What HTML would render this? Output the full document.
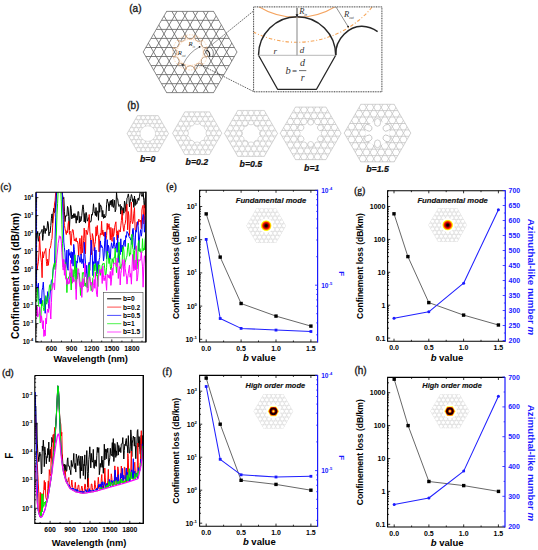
<!DOCTYPE html>
<html><head><meta charset="utf-8"><style>
html,body{margin:0;padding:0;background:#fff;}
body{width:538px;height:550px;overflow:hidden;font-family:"Liberation Sans",sans-serif;}
svg{display:block;}
</style></head><body>
<svg width="538" height="550" viewBox="0 0 538 550">
<rect width="538" height="550" fill="#fff"/>
<defs><radialGradient id="gfund"><stop offset="0" stop-color="#000"/><stop offset="0.2" stop-color="#200000"/><stop offset="0.42" stop-color="#b00000"/><stop offset="0.62" stop-color="#ff2000"/><stop offset="0.78" stop-color="#ffc000"/><stop offset="0.9" stop-color="#ffff30"/><stop offset="1" stop-color="#ffff80" stop-opacity="0.3"/></radialGradient><radialGradient id="ghigh"><stop offset="0" stop-color="#ffffa0"/><stop offset="0.22" stop-color="#ffb000"/><stop offset="0.42" stop-color="#a00000"/><stop offset="0.6" stop-color="#100000"/><stop offset="0.85" stop-color="#200000"/><stop offset="1" stop-color="#900000"/></radialGradient></defs>
<text x="129.2" y="11.5" font-family="Liberation Sans" font-size="10.1" fill="#1a1a1a" stroke="#1a1a1a" stroke-width="0.35">(a)</text>
<clipPath id="k1"><polygon points="143.1,52 166.6,11.3 213.6,11.3 237.1,52 213.6,92.7 166.6,92.7"/></clipPath>
<path clip-path="url(#k1)" d="M142.1 11.3H238.1M142.1 20.3H238.1M142.1 29.4H238.1M142.1 38.4H238.1M142.1 47.5H238.1M142.1 56.5H238.1M142.1 65.6H238.1M142.1 74.6H238.1M142.1 83.7H238.1M142.1 92.7H238.1M97.5 9.3L146.8 94.7M146.8 9.3L97.5 94.7M108 9.3L157.3 94.7M157.3 9.3L108 94.7M118.4 9.3L167.7 94.7M167.7 9.3L118.4 94.7M128.9 9.3L178.2 94.7M178.2 9.3L128.9 94.7M139.3 9.3L188.6 94.7M188.6 9.3L139.3 94.7M149.8 9.3L199.1 94.7M199.1 9.3L149.8 94.7M160.2 9.3L209.5 94.7M209.5 9.3L160.2 94.7M170.7 9.3L220 94.7M220 9.3L170.7 94.7M181.1 9.3L230.4 94.7M230.4 9.3L181.1 94.7M191.6 9.3L240.9 94.7M240.9 9.3L191.6 94.7M202 9.3L251.3 94.7M251.3 9.3L202 94.7M212.5 9.3L261.8 94.7M261.8 9.3L212.5 94.7M222.9 9.3L272.2 94.7M272.2 9.3L222.9 94.7M233.4 9.3L282.7 94.7M282.7 9.3L233.4 94.7" stroke="#686868" stroke-width="0.85" fill="none"/>
<polygon points="143.1,52 166.6,11.3 213.6,11.3 237.1,52 213.6,92.7 166.6,92.7" fill="none" stroke="#777" stroke-width="0.6"/>
<path d="M207 56.9A4.6 4.6 0 0 0 202.5 64.7A4.6 4.6 0 0 0 194.7 69.2A4.6 4.6 0 0 0 185.7 69.2A4.6 4.6 0 0 0 177.9 64.7A4.6 4.6 0 0 0 173.4 56.9A4.6 4.6 0 0 0 173.4 47.9A4.6 4.6 0 0 0 177.9 40.1A4.6 4.6 0 0 0 185.7 35.6A4.6 4.6 0 0 0 194.7 35.6A4.6 4.6 0 0 0 202.5 40.1A4.6 4.6 0 0 0 207 47.9A4.6 4.6 0 0 0 207 56.9Z" fill="#fff" stroke="#8a8a8a" stroke-width="0.8"/>
<path d="M207 56.9A4.6 4.6 0 0 0 202.5 64.7A4.6 4.6 0 0 0 194.7 69.2A4.6 4.6 0 0 0 185.7 69.2A4.6 4.6 0 0 0 177.9 64.7A4.6 4.6 0 0 0 173.4 56.9A4.6 4.6 0 0 0 173.4 47.9A4.6 4.6 0 0 0 177.9 40.1A4.6 4.6 0 0 0 185.7 35.6A4.6 4.6 0 0 0 194.7 35.6A4.6 4.6 0 0 0 202.5 40.1A4.6 4.6 0 0 0 207 47.9A4.6 4.6 0 0 0 207 56.9Z" fill="#fff" stroke="#e9a56a" stroke-width="0.5"/>
<circle cx="190.2" cy="52.4" r="13.0" fill="none" stroke="#f0a868" stroke-width="0.5" stroke-dasharray="1.2 1.0"/>
<circle cx="190.2" cy="52.4" r="17.6" fill="none" stroke="#f0a868" stroke-width="0.5" stroke-dasharray="1.4 1.4"/>
<path d="M183 64.5 Q189 52 199.5 47" stroke="#333" stroke-width="0.5" fill="none"/>
<circle cx="199.6" cy="46.8" r="0.9" fill="#111"/>
<circle cx="182.9" cy="64.8" r="0.9" fill="#111"/>
<text x="188.6" y="46.1" font-family="Liberation Serif" font-size="6.6" font-weight="normal" font-style="italic" text-anchor="start" fill="#222">R</text>
<text x="192.6" y="47.9" font-family="Liberation Serif" font-size="3.0" font-style="italic" fill="#555">in</text>
<text x="177.8" y="55.4" font-family="Liberation Serif" font-size="6.6" font-weight="normal" font-style="italic" text-anchor="start" fill="#222">R</text>
<text x="181.8" y="57.4" font-family="Liberation Serif" font-size="3.0" font-style="italic" fill="#555">out</text>
<path d="M206.5 50 Q210.5 52 209.5 56.5" stroke="#222" stroke-width="1.2" fill="none"/>
<path d="M210.5 47.5 Q215 51 212.5 57" stroke="#333" stroke-width="0.6" fill="none"/>
<path d="M207.3 48.4 L253.5 11 M200.5 64.8 L253.5 91.5" stroke="#333" stroke-width="0.75" stroke-dasharray="1.6 1" fill="none"/>
<clipPath id="ins"><rect x="253.6" y="7" width="128.3" height="84.8"/></clipPath>
<g clip-path="url(#ins)">
<circle cx="297" cy="-55.5" r="72.8" fill="none" stroke="#f4a460" stroke-width="1.1"/>
<circle cx="297" cy="-55.5" r="97.8" fill="none" stroke="#f6a558" stroke-width="1.1" stroke-dasharray="3.5 2 1 2"/>
</g>
<rect x="253.6" y="6.9" width="128.3" height="84.9" fill="none" stroke="#3a3a3a" stroke-width="1" stroke-dasharray="1 0.7"/>
<path d="M258.5 55.3 A38.6 38.6 0 0 1 335.7 55.3" stroke="#262626" stroke-width="1.5" fill="none"/>
<path d="M258.5 55.3 L277.6 89.3 L316.5 89.3 L335.7 55.3" stroke="#262626" stroke-width="1.3" fill="none" stroke-linejoin="round"/>
<path d="M258.5 55.3 H335.7" stroke="#b0b0b0" stroke-width="0.9"/>
<path d="M297 7.5 V55.3" stroke="#999" stroke-width="1.2"/>
<path d="M335.8 55 C335 38 350 26 362 26.3 C369 26.5 374 29 377.6 31.6" stroke="#262626" stroke-width="1.5" fill="none"/>
<path d="M297 8 V16" stroke="#333" stroke-width="0.5"/>
<path d="M295.6 14.2 L297 17.2 L298.4 14.2 Z" fill="#111"/>
<path d="M336 7 L348.1 26.6" stroke="#444" stroke-width="0.6"/>
<circle cx="348.1" cy="26.6" r="0.9" fill="#111"/>
<text x="299.2" y="14.2" font-family="Liberation Serif" font-size="8.5" font-weight="normal" font-style="italic" text-anchor="start" fill="#333">R</text>
<text x="304.3" y="15.8" font-family="Liberation Serif" font-size="3.6" font-style="italic" fill="#444">in</text>
<text x="344" y="17" font-family="Liberation Serif" font-size="8.5" font-weight="normal" font-style="italic" text-anchor="start" fill="#333">R</text>
<text x="349.2" y="18.6" font-family="Liberation Serif" font-size="3.6" font-style="italic" fill="#444">out</text>
<text x="273.5" y="54" font-family="Liberation Serif" font-size="9" font-weight="normal" font-style="italic" text-anchor="start" fill="#333">r</text>
<text x="299.8" y="53.4" font-family="Liberation Serif" font-size="9" font-weight="normal" font-style="italic" text-anchor="start" fill="#333">d</text>
<text x="285.6" y="74.4" font-family="Liberation Serif" font-size="10.5" font-weight="normal" font-style="italic" text-anchor="start" fill="#333">b</text>
<text x="292" y="74" font-family="Liberation Serif" font-size="9" font-weight="bold" font-style="normal" text-anchor="start" fill="#333">=</text>
<text x="302.6" y="66.2" font-family="Liberation Serif" font-size="10" font-weight="normal" font-style="italic" text-anchor="middle" fill="#333">d</text>
<path d="M299 70.6 H306.3" stroke="#333" stroke-width="0.7"/>
<text x="302.6" y="80.6" font-family="Liberation Serif" font-size="10" font-weight="normal" font-style="italic" text-anchor="middle" fill="#333">r</text>
<text x="127.2" y="108.5" font-family="Liberation Sans" font-size="10" fill="#1a1a1a" stroke="#1a1a1a" stroke-width="0.35">(b)</text>
<clipPath id="k2"><polygon points="127,133.6 137.4,115.6 158.2,115.6 168.6,133.6 158.2,151.6 137.4,151.6"/></clipPath>
<path clip-path="url(#k2)" d="M126 115.6H169.6M126 119.6H169.6M126 123.6H169.6M126 127.6H169.6M126 131.6H169.6M126 135.6H169.6M126 139.6H169.6M126 143.6H169.6M126 147.6H169.6M126 151.6H169.6M101.6 113.6L124.7 153.6M124.7 113.6L101.6 153.6M106.2 113.6L129.3 153.6M129.3 113.6L106.2 153.6M110.8 113.6L133.9 153.6M133.9 113.6L110.8 153.6M115.5 113.6L138.6 153.6M138.6 113.6L115.5 153.6M120.1 113.6L143.2 153.6M143.2 113.6L120.1 153.6M124.7 113.6L147.8 153.6M147.8 113.6L124.7 153.6M129.3 113.6L152.4 153.6M152.4 113.6L129.3 153.6M133.9 113.6L157 153.6M157 113.6L133.9 153.6M138.6 113.6L161.7 153.6M161.7 113.6L138.6 153.6M143.2 113.6L166.3 153.6M166.3 113.6L143.2 153.6M147.8 113.6L170.9 153.6M170.9 113.6L147.8 153.6M152.4 113.6L175.5 153.6M175.5 113.6L152.4 153.6M157 113.6L180.1 153.6M180.1 113.6L157 153.6M161.7 113.6L184.8 153.6M184.8 113.6L161.7 153.6M166.3 113.6L189.4 153.6M189.4 113.6L166.3 153.6M170.9 113.6L194 153.6M194 113.6L170.9 153.6" stroke="#c2c2c2" stroke-width="0.5" fill="none"/>
<polygon points="127,133.6 137.4,115.6 158.2,115.6 168.6,133.6 158.2,151.6 137.4,151.6" fill="none" stroke="#c2c2c2" stroke-width="0.5"/>
<circle cx="147.8" cy="133.6" r="7.8" fill="#fff" stroke="#c2c2c2" stroke-width="0.5"/>
<text x="147.6" y="162.3" font-family="Liberation Sans" font-size="8.8" font-weight="bold" font-style="italic" text-anchor="middle" fill="#111" stroke="#111" stroke-width="0.2">b=0</text>
<clipPath id="k3"><polygon points="172.5,133.2 184.8,111.8 209.6,111.8 221.9,133.2 209.6,154.6 184.8,154.6"/></clipPath>
<path clip-path="url(#k3)" d="M171.5 111.8H222.9M171.5 116.6H222.9M171.5 121.3H222.9M171.5 126.1H222.9M171.5 130.8H222.9M171.5 135.6H222.9M171.5 140.3H222.9M171.5 145.1H222.9M171.5 149.8H222.9M171.5 154.6H222.9M142.5 109.8L169.5 156.6M169.5 109.8L142.5 156.6M148 109.8L175 156.6M175 109.8L148 156.6M153.5 109.8L180.5 156.6M180.5 109.8L153.5 156.6M159 109.8L186 156.6M186 109.8L159 156.6M164.5 109.8L191.5 156.6M191.5 109.8L164.5 156.6M170 109.8L197 156.6M197 109.8L170 156.6M175.5 109.8L202.5 156.6M202.5 109.8L175.5 156.6M180.9 109.8L208 156.6M208 109.8L180.9 156.6M186.4 109.8L213.5 156.6M213.5 109.8L186.4 156.6M191.9 109.8L218.9 156.6M218.9 109.8L191.9 156.6M197.4 109.8L224.4 156.6M224.4 109.8L197.4 156.6M202.9 109.8L229.9 156.6M229.9 109.8L202.9 156.6M208.4 109.8L235.4 156.6M235.4 109.8L208.4 156.6M213.9 109.8L240.9 156.6M240.9 109.8L213.9 156.6M219.4 109.8L246.4 156.6M246.4 109.8L219.4 156.6M224.9 109.8L251.9 156.6M251.9 109.8L224.9 156.6" stroke="#c2c2c2" stroke-width="0.5706666666666667" fill="none"/>
<polygon points="172.5,133.2 184.8,111.8 209.6,111.8 221.9,133.2 209.6,154.6 184.8,154.6" fill="none" stroke="#c2c2c2" stroke-width="0.5"/>
<path d="M206.6 135.7A5.4 5.4 0 0 0 204.1 140.1A5.4 5.4 0 0 0 199.7 142.6A5.4 5.4 0 0 0 194.7 142.6A5.4 5.4 0 0 0 190.3 140.1A5.4 5.4 0 0 0 187.8 135.7A5.4 5.4 0 0 0 187.8 130.7A5.4 5.4 0 0 0 190.3 126.3A5.4 5.4 0 0 0 194.7 123.8A5.4 5.4 0 0 0 199.7 123.8A5.4 5.4 0 0 0 204.1 126.3A5.4 5.4 0 0 0 206.6 130.7A5.4 5.4 0 0 0 206.6 135.7Z" fill="#fff" stroke="#c2c2c2" stroke-width="0.5706666666666667"/>
<text x="196.9" y="164.8" font-family="Liberation Sans" font-size="8.8" font-weight="bold" font-style="italic" text-anchor="middle" fill="#111" stroke="#111" stroke-width="0.2">b=0.2</text>
<clipPath id="k4"><polygon points="224.4,133.4 237.7,110.4 264.3,110.4 277.6,133.4 264.3,156.4 237.7,156.4"/></clipPath>
<path clip-path="url(#k4)" d="M223.4 110.4H278.6M223.4 115.5H278.6M223.4 120.6H278.6M223.4 125.7H278.6M223.4 130.8H278.6M223.4 136H278.6M223.4 141.1H278.6M223.4 146.2H278.6M223.4 151.3H278.6M223.4 156.4H278.6M198.2 108.4L227.1 158.4M227.1 108.4L198.2 158.4M204.1 108.4L233 158.4M233 108.4L204.1 158.4M210 108.4L238.9 158.4M238.9 108.4L210 158.4M215.9 108.4L244.8 158.4M244.8 108.4L215.9 158.4M221.8 108.4L250.7 158.4M250.7 108.4L221.8 158.4M227.7 108.4L256.6 158.4M256.6 108.4L227.7 158.4M233.6 108.4L262.5 158.4M262.5 108.4L233.6 158.4M239.5 108.4L268.4 158.4M268.4 108.4L239.5 158.4M245.4 108.4L274.3 158.4M274.3 108.4L245.4 158.4M251.3 108.4L280.2 158.4M280.2 108.4L251.3 158.4M257.2 108.4L286.1 158.4M286.1 108.4L257.2 158.4M263.1 108.4L292 158.4M292 108.4L263.1 158.4M269 108.4L297.9 158.4M297.9 108.4L269 158.4M274.9 108.4L303.8 158.4M303.8 108.4L274.9 158.4" stroke="#c2c2c2" stroke-width="0.6133333333333333" fill="none"/>
<polygon points="224.4,133.4 237.7,110.4 264.3,110.4 277.6,133.4 264.3,156.4 237.7,156.4" fill="none" stroke="#c2c2c2" stroke-width="0.5"/>
<path d="M260.8 136A3.3 3.3 0 0 0 258.2 140.6A3.3 3.3 0 0 0 253.6 143.2A3.3 3.3 0 0 0 248.4 143.2A3.3 3.3 0 0 0 243.8 140.6A3.3 3.3 0 0 0 241.2 136A3.3 3.3 0 0 0 241.2 130.8A3.3 3.3 0 0 0 243.8 126.2A3.3 3.3 0 0 0 248.4 123.6A3.3 3.3 0 0 0 253.6 123.6A3.3 3.3 0 0 0 258.2 126.2A3.3 3.3 0 0 0 260.8 130.8A3.3 3.3 0 0 0 260.8 136Z" fill="#fff" stroke="#c2c2c2" stroke-width="0.6133333333333333"/>
<text x="250.9" y="166.7" font-family="Liberation Sans" font-size="8.8" font-weight="bold" font-style="italic" text-anchor="middle" fill="#111" stroke="#111" stroke-width="0.2">b=0.5</text>
<clipPath id="k5"><polygon points="280.2,133.3 295.5,106.9 325.9,106.9 341.2,133.3 325.9,159.7 295.5,159.7"/></clipPath>
<path clip-path="url(#k5)" d="M279.2 106.9H342.2M279.2 112.8H342.2M279.2 118.6H342.2M279.2 124.5H342.2M279.2 130.4H342.2M279.2 136.2H342.2M279.2 142.1H342.2M279.2 148H342.2M279.2 153.8H342.2M279.2 159.7H342.2M250.3 104.9L283.1 161.7M283.1 104.9L250.3 161.7M257 104.9L289.8 161.7M289.8 104.9L257 161.7M263.8 104.9L296.6 161.7M296.6 104.9L263.8 161.7M270.6 104.9L303.4 161.7M303.4 104.9L270.6 161.7M277.4 104.9L310.2 161.7M310.2 104.9L277.4 161.7M284.1 104.9L316.9 161.7M316.9 104.9L284.1 161.7M290.9 104.9L323.7 161.7M323.7 104.9L290.9 161.7M297.7 104.9L330.5 161.7M330.5 104.9L297.7 161.7M304.5 104.9L337.3 161.7M337.3 104.9L304.5 161.7M311.2 104.9L344 161.7M344 104.9L311.2 161.7M318 104.9L350.8 161.7M350.8 104.9L318 161.7M324.8 104.9L357.6 161.7M357.6 104.9L324.8 161.7M331.6 104.9L364.4 161.7M364.4 104.9L331.6 161.7M338.3 104.9L371.1 161.7M371.1 104.9L338.3 161.7" stroke="#c2c2c2" stroke-width="0.704" fill="none"/>
<polygon points="280.2,133.3 295.5,106.9 325.9,106.9 341.2,133.3 325.9,159.7 295.5,159.7" fill="none" stroke="#c2c2c2" stroke-width="0.5"/>
<circle cx="310.7" cy="133.3" r="10.3" fill="#fff"/>
<ellipse cx="320.4" cy="127.7" rx="2.9" ry="2.9" transform="rotate(-30 320.4 127.7)" fill="#fff" stroke="#c2c2c2" stroke-width="0.7"/>
<ellipse cx="310.7" cy="122.2" rx="2.9" ry="2.9" transform="rotate(-90 310.7 122.2)" fill="#fff" stroke="#c2c2c2" stroke-width="0.7"/>
<ellipse cx="301" cy="127.7" rx="2.9" ry="2.9" transform="rotate(-150 301 127.7)" fill="#fff" stroke="#c2c2c2" stroke-width="0.7"/>
<ellipse cx="301" cy="138.9" rx="2.9" ry="2.9" transform="rotate(-210 301 138.9)" fill="#fff" stroke="#c2c2c2" stroke-width="0.7"/>
<ellipse cx="310.7" cy="144.4" rx="2.9" ry="2.9" transform="rotate(-270 310.7 144.4)" fill="#fff" stroke="#c2c2c2" stroke-width="0.7"/>
<ellipse cx="320.4" cy="138.9" rx="2.9" ry="2.9" transform="rotate(-330 320.4 138.9)" fill="#fff" stroke="#c2c2c2" stroke-width="0.7"/>
<text x="311.8" y="170.8" font-family="Liberation Sans" font-size="8.8" font-weight="bold" font-style="italic" text-anchor="middle" fill="#111" stroke="#111" stroke-width="0.2">b=1</text>
<clipPath id="k6"><polygon points="344.1,133.1 360.8,104.2 394.2,104.2 410.9,133.1 394.2,162 360.8,162"/></clipPath>
<path clip-path="url(#k6)" d="M343.1 104.2H411.9M343.1 110.6H411.9M343.1 117H411.9M343.1 123.5H411.9M343.1 129.9H411.9M343.1 136.3H411.9M343.1 142.7H411.9M343.1 149.2H411.9M343.1 155.6H411.9M343.1 162H411.9M311.5 102.2L347.1 164M347.1 102.2L311.5 164M318.9 102.2L354.6 164M354.6 102.2L318.9 164M326.3 102.2L362 164M362 102.2L326.3 164M333.7 102.2L369.4 164M369.4 102.2L333.7 164M341.1 102.2L376.8 164M376.8 102.2L341.1 164M348.5 102.2L384.2 164M384.2 102.2L348.5 164M356 102.2L391.6 164M391.6 102.2L356 164M363.4 102.2L399 164M399 102.2L363.4 164M370.8 102.2L406.5 164M406.5 102.2L370.8 164M378.2 102.2L413.9 164M413.9 102.2L378.2 164M385.6 102.2L421.3 164M421.3 102.2L385.6 164M393 102.2L428.7 164M428.7 102.2L393 164M400.4 102.2L436.1 164M436.1 102.2L400.4 164M407.9 102.2L443.5 164M443.5 102.2L407.9 164" stroke="#c2c2c2" stroke-width="0.7706666666666666" fill="none"/>
<polygon points="344.1,133.1 360.8,104.2 394.2,104.2 410.9,133.1 394.2,162 360.8,162" fill="none" stroke="#c2c2c2" stroke-width="0.5"/>
<circle cx="377.5" cy="133.1" r="12.2" fill="#fff"/>
<ellipse cx="386.7" cy="127.8" rx="3.9" ry="3.1" transform="rotate(-30 386.7 127.8)" fill="#fff" stroke="#c2c2c2" stroke-width="0.8"/>
<ellipse cx="377.5" cy="122.4" rx="3.9" ry="3.1" transform="rotate(-90 377.5 122.4)" fill="#fff" stroke="#c2c2c2" stroke-width="0.8"/>
<ellipse cx="368.3" cy="127.8" rx="3.9" ry="3.1" transform="rotate(-150 368.3 127.8)" fill="#fff" stroke="#c2c2c2" stroke-width="0.8"/>
<ellipse cx="368.3" cy="138.4" rx="3.9" ry="3.1" transform="rotate(-210 368.3 138.4)" fill="#fff" stroke="#c2c2c2" stroke-width="0.8"/>
<ellipse cx="377.5" cy="143.8" rx="3.9" ry="3.1" transform="rotate(-270 377.5 143.8)" fill="#fff" stroke="#c2c2c2" stroke-width="0.8"/>
<ellipse cx="386.7" cy="138.4" rx="3.9" ry="3.1" transform="rotate(-330 386.7 138.4)" fill="#fff" stroke="#c2c2c2" stroke-width="0.8"/>
<text x="377.6" y="171.6" font-family="Liberation Sans" font-size="8.8" font-weight="bold" font-style="italic" text-anchor="middle" fill="#111" stroke="#111" stroke-width="0.2">b=1.5</text>
<clipPath id="cc"><rect x="35.8" y="192.3" width="110.1" height="149.7"/></clipPath>
<polyline points="36.5,241.3 37.1,234.2 37.7,231.4 38.4,241.3 39,240.4 39.6,233.2 40.2,233.5 40.8,232.5 41.5,230.8 42.1,229.4 42.7,240.4 43.3,234.6 43.9,225.7 44.6,229.7 45.2,233.5 45.8,228.4 46.4,230.6 47,228.7 47.7,221.4 48.3,223.9 48.9,235.8 49.5,232.1 50.1,232.7 50.8,225.6 51.4,218.4 52,213.9 52.6,223.1 53.2,212.6 53.9,208.2 54.5,212.7 55.1,211.7 55.7,204 56.3,196 57,190.7 57.6,187.4 58.2,185.6 58.8,182.7 59.4,178.4 59.5,181.9 60.1,181.3 60.7,180.1 61.3,187.9 61.9,186.9 62.5,194.8 63.2,198.9 63.8,197.5 64.4,211.2 65,221.6 65.6,215.8 66.3,215.8 66.9,216.1 67.5,206.4 68.1,208 68.7,216.5 69.4,230.1 70,216 70.6,205.4 71.2,208.6 71.8,218.9 72.5,215.1 73.1,218.1 73.7,213.7 74.3,217.7 74.9,213.6 75.6,217 76.2,223.2 76.8,215.8 77.4,220.2 78,211.4 78.7,211.9 79.3,222.9 79.9,216.3 80.5,221.6 81.1,220.9 81.8,215.3 82.4,208.9 83,204.9 83.6,209.2 84.2,221.9 84.9,213.5 85.5,223.1 86.1,212.4 86.7,215.1 87.3,221.2 88,219.2 88.6,217.6 89.2,220.1 89.8,222.7 90.4,221.2 91.1,221.5 91.7,214.3 92.3,215.2 92.9,211.3 93.5,203.8 94.2,212.6 94.8,212.1 95.4,215.5 96,207.5 96.6,216.5 97.3,211.1 97.9,211.1 98.5,220.3 99.1,202.8 99.7,212.3 100.4,204.8 101,206.1 101.6,207.4 102.2,216.9 102.8,210.4 103.5,218.4 104.1,214.3 104.7,217.9 105.3,217.1 105.9,215.7 106.6,204.8 107.2,199.1 107.8,201.8 108.4,203.2 109,211 109.7,203.1 110.3,200.7 110.9,205.1 111.5,200.3 112.1,206.6 112.8,199.3 113.4,207.5 114,205.5 114.6,200.2 115.2,211.8 115.9,209.4 116.5,192.2 117.1,198.9 117.7,198.8 118.3,203.9 119,206.5 119.6,205.9 120.2,204.4 120.8,214.1 121.4,206.3 122.1,207.9 122.7,215.3 123.3,207.8 123.9,213.2 124.5,201 125.2,203.9 125.8,211.5 126.4,208.4 127,198.1 127.6,197.2 128.3,193.9 128.9,197.5 129.5,206.9 130.1,201.9 130.7,198.5 131.4,194.5 132,196.4 132.6,201.5 133.2,198.8 133.8,207.4 134.5,196.1 135.1,205.5 135.7,199.4 136.3,204.3 136.9,203.5 137.6,200.5 138.2,198 138.8,200.4 139.4,196.8 140,193.1 140.7,186.7 141.3,194.4 141.9,196.6 142.5,196.2 143.1,191.5 143.8,200.3 144.4,208.1 145,198.7 145.6,197 146.2,194.6" fill="none" stroke="#000000" stroke-width="1.0" stroke-linejoin="round" clip-path="url(#cc)"/>
<polyline points="36.5,253.2 37.1,269.6 37.7,265.9 38.4,261.7 39,252.4 39.6,236.2 40.2,249 40.8,257 41.5,262.8 42.1,277.7 42.7,251.7 43.3,258 43.9,254.7 44.6,251.9 45.2,250.6 45.8,248.4 46.4,261.6 47,266 47.7,259.2 48.3,265.3 48.9,260.4 49.5,249 50.1,248.5 50.8,245.5 51.4,240.5 52,238.5 52.6,227.1 53.2,219.1 53.9,214.8 54.5,204 55.1,200.6 55.7,192.4 56.3,188.1 57,185.4 57.6,180.8 58.2,180.3 58.8,178.6 59.4,177.3 59.4,179.3 60.1,179.6 60.7,178.6 61.3,187.9 61.9,191.7 62.5,196 63.2,203.4 63.8,215.7 64.4,225.3 65,228.7 65.6,231.7 66.3,234.6 66.9,230.7 67.5,232.7 68.1,224.1 68.7,221.1 69.4,234.3 70,231 70.6,244.6 71.2,245.3 71.8,233.5 72.5,229.6 73.1,229.8 73.7,235.1 74.3,240.9 74.9,239 75.6,241.3 76.2,237.8 76.8,241.9 77.4,241.1 78,244.1 78.7,255.9 79.3,244.1 79.9,238.3 80.5,246.8 81.1,255.1 81.8,235.7 82.4,252.8 83,247.3 83.6,240.3 84.2,228.1 84.9,238.7 85.5,253.8 86.1,230 86.7,232.7 87.3,234.6 88,230.7 88.6,225.1 89.2,214.5 89.8,231.2 90.4,237.2 91.1,245.5 91.7,254.8 92.3,233.6 92.9,236.1 93.5,240 94.2,251.1 94.8,244.3 95.4,241.7 96,226.8 96.6,236.1 97.3,225.5 97.9,234.7 98.5,235.2 99.1,251.9 99.7,238.6 100.4,233.4 101,234.9 101.6,221.3 102.2,234.6 102.8,230 103.5,236.1 104.1,232.2 104.7,236.5 105.3,231.9 105.9,239.5 106.6,235.4 107.2,223.3 107.8,229.5 108.4,227.2 109,223.8 109.7,230.1 110.3,239.9 110.9,227.4 111.5,237.3 112.1,241.4 112.8,228.4 113.4,236.5 114,233.7 114.6,227.8 115.2,224.3 115.9,221.8 116.5,233.6 117.1,240.1 117.7,230.8 118.3,237.8 119,229.8 119.6,230.4 120.2,232 120.8,225.9 121.4,220.5 122.1,210.5 122.7,221.9 123.3,227.9 123.9,231.3 124.5,225.3 125.2,223.6 125.8,219.3 126.4,205.7 127,204.2 127.6,229.8 128.3,211.5 128.9,216 129.5,235.4 130.1,224.5 130.7,220.3 131.4,202.1 132,221.1 132.6,223.7 133.2,221.2 133.8,213.2 134.5,207.7 135.1,229.5 135.7,231 136.3,228.1 136.9,222.2 137.6,223 138.2,224.6 138.8,219.1 139.4,220.8 140,221.9 140.7,220.2 141.3,228.8 141.9,210 142.5,206.8 143.1,205.3 143.8,224 144.4,220.7 145,204.8 145.6,214.4 146.2,198.3" fill="none" stroke="#ff0000" stroke-width="1.0" stroke-linejoin="round" clip-path="url(#cc)"/>
<polyline points="36.4,192.2 36.5,286.4 37.1,288.3 37.7,286.9 38.4,283.1 39,299.9 39.6,299.1 40.2,304.1 40.8,298.1 41.5,303.9 42.1,290.2 42.7,287.7 43.3,282.1 43.9,292.1 44.6,305 45.2,313.3 45.8,296.7 46.4,300.9 47,301.4 47.7,291.6 48.3,303.5 48.9,308.5 49.5,304.2 50.1,294 50.8,287.1 51.4,280.4 52,280 52.6,278.2 53.2,269.2 53.9,266.1 54.5,266.5 55.1,238 55.7,217.1 56.3,194.3 57,185.3 57.6,170 58.2,160.1 58.8,154.7 59.4,151.3 59.4,152.4 60.1,154.6 60.7,163.7 61.3,167.5 61.9,183.2 62.5,199.1 63.2,219.4 63.8,242.1 64.4,247.8 65,252.9 65.6,267.7 66.3,264.1 66.9,250.1 67.5,268.3 68.1,270.3 68.7,249.1 69.4,255.3 70,252.9 70.6,257.6 71.2,251.6 71.8,263.6 72.5,252.3 73.1,266.2 73.7,244.4 74.3,249.3 74.9,257.5 75.6,262.9 76.2,278.9 76.8,260.9 77.4,263.1 78,255.2 78.7,256 79.3,257.1 79.9,262.5 80.5,262 81.1,254.1 81.8,263.6 82.4,262.4 83,258.9 83.6,267.9 84.2,242.2 84.9,254.6 85.5,263 86.1,276.9 86.7,265.3 87.3,279.5 88,277.3 88.6,263.6 89.2,262.2 89.8,270.4 90.4,257.1 91.1,240 91.7,248.3 92.3,254.7 92.9,275.7 93.5,261.7 94.2,263.6 94.8,247.4 95.4,263.8 96,250 96.6,274.6 97.3,273.2 97.9,261.3 98.5,267 99.1,259.9 99.7,257.4 100.4,240.9 101,247.6 101.6,245.4 102.2,246.9 102.8,248.5 103.5,260.9 104.1,256.1 104.7,240.8 105.3,232 105.9,250.9 106.6,258.7 107.2,239.7 107.8,253 108.4,245.3 109,248 109.7,259.4 110.3,259.1 110.9,248.2 111.5,242.8 112.1,245.6 112.8,248.4 113.4,246.3 114,237.2 114.6,244.8 115.2,248.9 115.9,246.3 116.5,242.9 117.1,252.3 117.7,235.2 118.3,252.6 119,262.6 119.6,250.5 120.2,254.6 120.8,238.8 121.4,251.8 122.1,245 122.7,249.1 123.3,245.4 123.9,241.2 124.5,240.1 125.2,246.5 125.8,235.6 126.4,237.4 127,231.5 127.6,233.1 128.3,233.3 128.9,236.3 129.5,237.7 130.1,237.4 130.7,240.1 131.4,238.3 132,244.6 132.6,229.4 133.2,228.3 133.8,237.3 134.5,249.5 135.1,247 135.7,230.5 136.3,232.2 136.9,227.1 137.6,221.6 138.2,226.8 138.8,250.8 139.4,239.9 140,233.8 140.7,229.6 141.3,236.2 141.9,232.3 142.5,217.9 143.1,214.5 143.8,216.3 144.4,232.2 145,224.2 145.6,222.3 146.2,219.5" fill="none" stroke="#0000ff" stroke-width="1.0" stroke-linejoin="round" clip-path="url(#cc)"/>
<polyline points="36.5,302.1 37.1,296.2 37.7,288.1 38.4,304.2 39,306.4 39.6,307.1 40.2,322.9 40.8,319.7 41.5,303.8 42.1,305.7 42.7,300.3 43.3,307.5 43.9,310.7 44.6,308.9 45.2,299.6 45.8,295.6 46.4,304.2 47,302.7 47.7,298.4 48.3,296.5 48.9,292.3 49.5,285.3 50.1,284.5 50.8,290.3 51.4,290.4 52,289 52.6,275.9 53.2,267.6 53.9,264.3 54.5,262.9 55.1,269.6 55.7,259.8 56.3,236.1 57,214.2 57.6,203.4 58.2,189.6 58.8,181.5 59.4,180.1 59.5,182.5 60.1,182.6 60.7,189.3 61.3,201.9 61.9,224.3 62.5,243.3 63.2,266.8 63.8,260.4 64.4,269.9 65,265.6 65.6,262.5 66.3,276 66.9,292.6 67.5,279.6 68.1,279.5 68.7,276.8 69.4,276.8 70,272.6 70.6,278.1 71.2,290 71.8,276.1 72.5,277 73.1,269.7 73.7,281.3 74.3,274.8 74.9,254.9 75.6,273.4 76.2,289.1 76.8,267.8 77.4,278.6 78,272.7 78.7,273.3 79.3,273.1 79.9,281 80.5,295.4 81.1,285.8 81.8,289.4 82.4,272.6 83,273.5 83.6,272.4 84.2,276.9 84.9,286 85.5,283 86.1,286.8 86.7,277.3 87.3,288.1 88,277.2 88.6,270.6 89.2,264.7 89.8,278 90.4,281.6 91.1,290.6 91.7,289 92.3,284 92.9,277.8 93.5,277.3 94.2,264.5 94.8,270.8 95.4,263.5 96,267.3 96.6,276.1 97.3,275 97.9,286.6 98.5,264.6 99.1,265.7 99.7,265.2 100.4,275.3 101,271.4 101.6,270.8 102.2,265.1 102.8,263.5 103.5,263.9 104.1,263.2 104.7,268.2 105.3,275.1 105.9,274.8 106.6,267.3 107.2,251.3 107.8,254 108.4,257.1 109,263.6 109.7,258.2 110.3,266.6 110.9,269.8 111.5,268 112.1,258.6 112.8,261 113.4,263.7 114,257.3 114.6,257.8 115.2,248 115.9,263.5 116.5,272.6 117.1,262.8 117.7,257.6 118.3,252.5 119,242.2 119.6,259.3 120.2,266.2 120.8,268.7 121.4,265.8 122.1,263.2 122.7,248.1 123.3,246.7 123.9,251.1 124.5,265.9 125.2,262.5 125.8,259.9 126.4,257.5 127,255.9 127.6,247.8 128.3,243.2 128.9,249.8 129.5,256.2 130.1,252.9 130.7,254.3 131.4,236.3 132,234.2 132.6,247.8 133.2,249.3 133.8,268.3 134.5,251 135.1,250.1 135.7,246.6 136.3,248.1 136.9,268.9 137.6,261.2 138.2,243.7 138.8,240.5 139.4,251.5 140,248.6 140.7,252.1 141.3,253.1 141.9,252.9 142.5,238.7 143.1,250.8 143.8,248.2 144.4,250 145,240.1 145.6,236.1 146.2,233.3" fill="none" stroke="#00ee00" stroke-width="1.0" stroke-linejoin="round" clip-path="url(#cc)"/>
<polyline points="36.5,316.1 37.1,306.7 37.7,317.1 38.4,314.7 39,313.4 39.6,307.2 40.2,312.6 40.8,322.3 41.5,315.8 42.1,321.2 42.7,328.6 43.3,320.7 43.9,336.5 44.6,330 45.2,335.8 45.8,318.2 46.4,324 47,312.8 47.7,309 48.3,312.5 48.9,307.9 49.5,299 50.1,308.7 50.8,319 51.4,302.7 52,288.4 52.6,287.9 53.2,283.4 53.9,283 54.5,289.9 55.1,278.4 55.7,270.3 56.3,263.5 57,255.1 57.6,250 58.2,243.4 58.8,240 59.4,235.8 60.1,236.5 60.2,238.3 60.7,236.7 61.3,241.9 61.9,252.7 62.5,262.1 63.2,270.1 63.8,259.2 64.4,275.3 65,263.8 65.6,278.9 66.3,278.5 66.9,284.5 67.5,278.4 68.1,280.8 68.7,284.1 69.4,283.1 70,270.7 70.6,260 71.2,277.1 71.8,268.7 72.5,283.2 73.1,276.8 73.7,281.6 74.3,279.6 74.9,280.4 75.6,284.2 76.2,299.6 76.8,281.2 77.4,276.6 78,269 78.7,268.9 79.3,282.8 79.9,286 80.5,287.6 81.1,281.8 81.8,297.4 82.4,285.5 83,278.6 83.6,286.7 84.2,277.6 84.9,263.4 85.5,272.4 86.1,274 86.7,277.4 87.3,292.3 88,291.3 88.6,288.5 89.2,277.1 89.8,277 90.4,283.1 91.1,285.5 91.7,282.2 92.3,291.8 92.9,290.4 93.5,285.3 94.2,279.4 94.8,288.3 95.4,272 96,286.3 96.6,294.4 97.3,296.8 97.9,280.9 98.5,277.1 99.1,274.4 99.7,269.4 100.4,272.5 101,271 101.6,269.1 102.2,283.5 102.8,265.9 103.5,277.4 104.1,280.8 104.7,277.5 105.3,275.3 105.9,281.6 106.6,290.3 107.2,274.3 107.8,275.4 108.4,277.6 109,274.8 109.7,278.4 110.3,271.4 110.9,285.4 111.5,279.9 112.1,268.1 112.8,275.3 113.4,266.6 114,262.6 114.6,263.5 115.2,263.2 115.9,264.5 116.5,266.7 117.1,257.9 117.7,263 118.3,278.5 119,271.2 119.6,266.5 120.2,285 120.8,273.8 121.4,270.5 122.1,266.7 122.7,259.6 123.3,264.1 123.9,276.4 124.5,259.7 125.2,268.4 125.8,272.9 126.4,275.8 127,284.1 127.6,278.2 128.3,273.7 128.9,268.9 129.5,265.1 130.1,277.2 130.7,273.5 131.4,284.2 132,269.4 132.6,254.5 133.2,261 133.8,270.8 134.5,268.1 135.1,260 135.7,269.9 136.3,245.8 136.9,281.1 137.6,277.8 138.2,270.9 138.8,259.4 139.4,261.2 140,260.5 140.7,258.5 141.3,251.7 141.9,260.1 142.5,266.9 143.1,287.2 143.8,266.9 144.4,255.8 145,257.2 145.6,262.5 146.2,249.3" fill="none" stroke="#ff00ff" stroke-width="1.0" stroke-linejoin="round" clip-path="url(#cc)"/>
<path d="M35.8 192.3H145.9V342" stroke="#000" stroke-width="1.1" fill="none"/>
<path d="M35.8 192.3V342H145.9" stroke="#000" stroke-width="1.1" fill="none"/>
<path d="M145.9 191.8V342.6" stroke="#000" stroke-width="1.1" fill="none"/>
<path d="M35.8 341.6L38.4 341.6M35.8 336.2L37.1 336.2M35.8 333L37.1 333M35.8 330.8L37.1 330.8M35.8 329L37.1 329M35.8 327.6L37.1 327.6M35.8 326.4L37.1 326.4M35.8 325.3L37.1 325.3M35.8 324.4L37.1 324.4M35.8 323.6L38.4 323.6M35.8 318.2L37.1 318.2M35.8 315L37.1 315M35.8 312.8L37.1 312.8M35.8 311L37.1 311M35.8 309.6L37.1 309.6M35.8 308.4L37.1 308.4M35.8 307.3L37.1 307.3M35.8 306.4L37.1 306.4M35.8 305.6L38.4 305.6M35.8 300.2L37.1 300.2M35.8 297L37.1 297M35.8 294.8L37.1 294.8M35.8 293L37.1 293M35.8 291.6L37.1 291.6M35.8 290.4L37.1 290.4M35.8 289.3L37.1 289.3M35.8 288.4L37.1 288.4M35.8 287.6L38.4 287.6M35.8 282.2L37.1 282.2M35.8 279L37.1 279M35.8 276.8L37.1 276.8M35.8 275L37.1 275M35.8 273.6L37.1 273.6M35.8 272.4L37.1 272.4M35.8 271.3L37.1 271.3M35.8 270.4L37.1 270.4M35.8 269.6L38.4 269.6M35.8 264.2L37.1 264.2M35.8 261L37.1 261M35.8 258.8L37.1 258.8M35.8 257L37.1 257M35.8 255.6L37.1 255.6M35.8 254.4L37.1 254.4M35.8 253.3L37.1 253.3M35.8 252.4L37.1 252.4M35.8 251.6L38.4 251.6M35.8 246.2L37.1 246.2M35.8 243L37.1 243M35.8 240.8L37.1 240.8M35.8 239L37.1 239M35.8 237.6L37.1 237.6M35.8 236.4L37.1 236.4M35.8 235.3L37.1 235.3M35.8 234.4L37.1 234.4M35.8 233.6L38.4 233.6M35.8 228.2L37.1 228.2M35.8 225L37.1 225M35.8 222.8L37.1 222.8M35.8 221L37.1 221M35.8 219.6L37.1 219.6M35.8 218.4L37.1 218.4M35.8 217.3L37.1 217.3M35.8 216.4L37.1 216.4M35.8 215.6L38.4 215.6M35.8 210.2L37.1 210.2M35.8 207L37.1 207M35.8 204.8L37.1 204.8M35.8 203L37.1 203M35.8 201.6L37.1 201.6M35.8 200.4L37.1 200.4M35.8 199.3L37.1 199.3M35.8 198.4L37.1 198.4M35.8 197.6L38.4 197.6M41.3 342L41.3 340.6M51.4 342L51.4 339.4M61.5 342L61.5 340.6M71.5 342L71.5 339.4M81.6 342L81.6 340.6M91.7 342L91.7 339.4M101.7 342L101.7 340.6M111.8 342L111.8 339.4M121.9 342L121.9 340.6M131.9 342L131.9 339.4M142 342L142 340.6" stroke="#000" stroke-width="0.8" fill="none"/>
<text x="33.2" y="343.8" font-family="Liberation Sans" font-weight="bold" font-size="6.3" fill="#000" text-anchor="end">10<tspan font-size="3.9" dy="-2.6">-4</tspan></text>
<text x="33.2" y="325.8" font-family="Liberation Sans" font-weight="bold" font-size="6.3" fill="#000" text-anchor="end">10<tspan font-size="3.9" dy="-2.6">-3</tspan></text>
<text x="33.2" y="307.8" font-family="Liberation Sans" font-weight="bold" font-size="6.3" fill="#000" text-anchor="end">10<tspan font-size="3.9" dy="-2.6">-2</tspan></text>
<text x="33.2" y="289.8" font-family="Liberation Sans" font-weight="bold" font-size="6.3" fill="#000" text-anchor="end">10<tspan font-size="3.9" dy="-2.6">-1</tspan></text>
<text x="33.2" y="271.8" font-family="Liberation Sans" font-weight="bold" font-size="6.3" fill="#000" text-anchor="end">10<tspan font-size="3.9" dy="-2.6">0</tspan></text>
<text x="33.2" y="253.8" font-family="Liberation Sans" font-weight="bold" font-size="6.3" fill="#000" text-anchor="end">10<tspan font-size="3.9" dy="-2.6">1</tspan></text>
<text x="33.2" y="235.8" font-family="Liberation Sans" font-weight="bold" font-size="6.3" fill="#000" text-anchor="end">10<tspan font-size="3.9" dy="-2.6">2</tspan></text>
<text x="33.2" y="217.8" font-family="Liberation Sans" font-weight="bold" font-size="6.3" fill="#000" text-anchor="end">10<tspan font-size="3.9" dy="-2.6">3</tspan></text>
<text x="33.2" y="199.8" font-family="Liberation Sans" font-weight="bold" font-size="6.3" fill="#000" text-anchor="end">10<tspan font-size="3.9" dy="-2.6">4</tspan></text>
<text x="51.4" y="350.9" font-family="Liberation Sans" font-size="6.9" font-weight="bold" font-style="normal" text-anchor="middle" fill="#000">600</text>
<text x="71.5" y="350.9" font-family="Liberation Sans" font-size="6.9" font-weight="bold" font-style="normal" text-anchor="middle" fill="#000">900</text>
<text x="91.7" y="350.9" font-family="Liberation Sans" font-size="6.9" font-weight="bold" font-style="normal" text-anchor="middle" fill="#000">1200</text>
<text x="111.8" y="350.9" font-family="Liberation Sans" font-size="6.9" font-weight="bold" font-style="normal" text-anchor="middle" fill="#000">1500</text>
<text x="131.9" y="350.9" font-family="Liberation Sans" font-size="6.9" font-weight="bold" font-style="normal" text-anchor="middle" fill="#000">1800</text>
<text x="90.7" y="362" font-family="Liberation Sans" font-size="9.3" font-weight="bold" font-style="normal" text-anchor="middle" fill="#000">Wavelength (nm)</text>
<text transform="translate(18.6 276) rotate(-90)" font-family="Liberation Sans" font-weight="bold" font-size="10.2" text-anchor="middle">Confinement loss (dB/km)</text>
<text x="0.3" y="189.8" font-family="Liberation Sans" font-size="9.5" fill="#1a1a1a" stroke="#1a1a1a" stroke-width="0.35">(c)</text>
<rect x="103.6" y="292.6" width="39.4" height="45.2" fill="#fff" stroke="#444" stroke-width="0.6"/>
<path d="M107.1 298.8H121.3" stroke="#000" stroke-width="1.0"/>
<text x="123" y="301.2" font-family="Liberation Sans" font-size="6.6" font-weight="bold" font-style="normal" text-anchor="start" fill="#000">b=0</text>
<path d="M107.1 307.1H121.3" stroke="#ff0000" stroke-width="0.7"/>
<text x="123" y="309.5" font-family="Liberation Sans" font-size="6.6" font-weight="bold" font-style="normal" text-anchor="start" fill="#000">b=0.2</text>
<path d="M107.1 315.4H121.3" stroke="#0000ff" stroke-width="0.7"/>
<text x="123" y="317.8" font-family="Liberation Sans" font-size="6.6" font-weight="bold" font-style="normal" text-anchor="start" fill="#000">b=0.5</text>
<path d="M107.1 323.7H121.3" stroke="#00ee00" stroke-width="0.7"/>
<text x="123" y="326.1" font-family="Liberation Sans" font-size="6.6" font-weight="bold" font-style="normal" text-anchor="start" fill="#000">b=1</text>
<path d="M107.1 332H121.3" stroke="#ff00ff" stroke-width="0.7"/>
<text x="123" y="334.4" font-family="Liberation Sans" font-size="6.6" font-weight="bold" font-style="normal" text-anchor="start" fill="#000">b=1.5</text>
<clipPath id="dc"><rect x="34.8" y="375.5" width="108.5" height="147.9"/></clipPath>
<polyline points="35.3,406.6 35.8,406 36.3,443 36.8,422.8 37.3,443.1 37.8,452.8 38.3,456.1 38.8,461.7 39.3,457.7 39.8,452.1 40.3,455.3 40.8,454.6 41.3,474 41.8,472.7 42.3,446 42.8,450.7 43.3,440.1 43.8,448.1 44.3,466.7 44.8,446.9 45.3,452.2 45.8,455.4 46.3,463.8 46.8,456.6 47.3,457.6 47.8,448.5 48.3,454.7 48.8,442.1 49.3,461.7 49.8,450.9 50.3,449.1 50.8,458.2 51.3,458.4 51.8,437.4 52.3,439.1 52.8,442.4 53.3,435.2 53.8,441.8 54.3,434.2 54.8,442.8 55.3,434.5 55.8,426.3 56.3,417.7 56.8,407.8 57.3,397.8 57.8,387.3 58.3,388.3 58.8,397.1 59.3,409.8 59.8,422.4 60.3,434.2 60.8,445.9 61.3,450.1 61.8,455.4 62.3,454.8 62.8,463.1 63.3,465.8 63.8,466.4 64.3,464.1 64.8,471.4 65.3,471.3 65.8,464.7 66.3,471.3 66.8,470.9 67.3,460 67.8,457.8 68.3,466.3 68.8,465.7 69.3,466.1 69.8,469.9 70.3,470.3 70.8,474.7 71.3,460.4 71.8,466.4 72.3,466.8 72.8,463.9 73.3,461 73.8,453.4 74.3,467.6 74.8,468.6 75.3,463.4 75.8,472.1 76.3,454.1 76.8,457 77.3,458.8 77.8,465.6 78.3,458.3 78.8,455.6 79.3,460.1 79.8,466.6 80.3,478.4 80.8,456.1 81.3,466.9 81.8,471 82.3,456.2 82.8,460.8 83.3,475.6 83.8,464.3 84.3,465.7 84.8,454.9 85.3,479.2 85.8,466.2 86.3,463.9 86.8,450.6 87.3,471.5 87.8,487 88.3,473.7 88.8,459.6 89.3,454.8 89.8,446.8 90.3,457.9 90.8,467.9 91.3,453.4 91.8,460.8 92.3,462.2 92.8,460.2 93.3,449.4 93.8,467.6 94.3,468.4 94.8,460.1 95.3,460 95.8,466.1 96.3,466.4 96.8,455.6 97.3,447.3 97.8,452.4 98.3,452.5 98.8,447.6 99.3,474.7 99.8,470.5 100.3,463.4 100.8,467.3 101.3,465.4 101.8,456.2 102.3,467.4 102.8,460.1 103.3,473.3 103.8,464.1 104.3,444.2 104.8,460 105.3,452.4 105.8,448.9 106.3,458.8 106.8,449.5 107.3,452.4 107.8,448.1 108.3,459.1 108.8,465.7 109.3,461.9 109.8,457.7 110.3,448.3 110.8,454.3 111.3,455.7 111.8,453.6 112.3,442.6 112.8,456.5 113.3,438.6 113.8,461.5 114.3,455.9 114.8,443.5 115.3,446.1 115.8,457.4 116.3,450.9 116.8,455.7 117.3,442.3 117.8,444.7 118.3,455.1 118.8,445.5 119.3,451.7 119.8,448.9 120.3,447.6 120.8,452.6 121.3,444 121.8,443.5 122.3,443.6 122.8,437.6 123.3,449 123.8,459 124.3,450.4 124.8,444.3 125.3,445.6 125.8,440.6 126.3,438.5 126.8,446 127.3,445.8 127.8,452.9 128.3,435.6 128.8,446.3 129.3,453 129.8,453.1 130.3,446.9 130.8,429.9 131.3,436.2 131.8,456.7 132.3,443.1 132.8,439.5 133.3,436.1 133.8,438.2 134.3,446.2 134.8,437 135.3,444.8 135.8,458.7 136.3,445.4 136.8,444.9 137.3,430.8 137.8,429.6 138.3,447 138.8,436.4 139.3,436.8 139.8,449.3 140.3,454.2 140.8,437.3 141.3,435.1 141.8,440.9 142.3,450.2 142.8,435.5 143.3,440" fill="none" stroke="#000" stroke-width="1.0" stroke-linejoin="round" clip-path="url(#dc)"/>
<polyline points="35.3,414 35.8,425.7 36.3,437.7 36.8,450.7 37.3,463.7 37.8,474.5 38.3,483.9 38.8,493.3 39.3,513 39.8,509.1 40.3,492.3 40.8,516.2 41.3,496.3 41.8,493.5 42.3,506.4 42.8,508.1 43.3,497 43.8,489.6 44.3,480.5 44.8,490 45.3,482.3 45.8,497.5 46.3,498.9 46.8,500.3 47.3,497.1 47.8,488.3 48.3,480.9 48.8,490.6 49.3,469.6 49.8,474.3 50.3,475.8 50.8,473.8 51.3,446.9 51.8,459 52.3,464.5 52.8,461.5 53.3,434.4 53.8,451.3 54.3,432.8 54.8,427.3 55.3,433.1 55.8,420.9 56.3,416.2 56.8,406.4 57.3,396.4 57.8,385.8 58.3,386.9 58.8,395.7 59.3,408.4 59.8,417.8 60.3,421.6 60.8,424.4 61.3,436 61.8,432.3 62.3,458.9 62.8,466.5 63.3,469.6 63.8,472.4 64.3,474.4 64.8,471.3 65.3,470.5 65.8,477.7 66.3,481.3 66.8,482.3 67.3,481.4 67.8,481.8 68.3,478.7 68.8,477.5 69.3,484.5 69.8,486.5 70.3,487.3 70.8,487.9 71.3,485.4 71.8,480 72.3,484.9 72.8,487.9 73.3,489.1 73.8,488.6 74.3,488.6 74.8,487.5 75.3,482.3 75.8,487.9 76.3,490.2 76.8,490.5 77.3,491.2 77.8,487.6 78.3,485.1 78.8,485 79.3,491.3 79.8,492.5 80.3,492.7 80.8,491.1 81.3,488.9 81.8,486 82.3,487.6 82.8,492.6 83.3,491.5 83.8,492.4 84.3,490.3 84.8,484.1 85.3,484.2 85.8,489.1 86.3,491.7 86.8,491.3 87.3,491.5 87.8,487.4 88.3,478.3 88.8,488.4 89.3,490.1 89.8,491.1 90.3,491.8 90.8,491.8 91.3,484 91.8,483.9 92.3,487.4 92.8,490.7 93.3,490.9 93.8,489.9 94.3,489.1 94.8,480.6 95.3,484.6 95.8,488.2 96.3,489.9 96.8,490.2 97.3,490.6 97.8,484.6 98.3,477.3 98.8,483 99.3,488.3 99.8,489.2 100.3,488.2 100.8,488.4 101.3,478.8 101.8,474.5 102.3,485.3 102.8,488.5 103.3,487.6 103.8,488.1 104.3,485.2 104.8,468.1 105.3,477.9 105.8,486.8 106.3,485.5 106.8,485.6 107.3,486.9 107.8,480.5 108.3,469.4 108.8,483.4 109.3,485.8 109.8,484.1 110.3,485.7 110.8,483.2 111.3,473.8 111.8,477.7 112.3,483.4 112.8,486.4 113.3,485.5 113.8,483.9 114.3,480.4 114.8,465.9 115.3,476.3 115.8,482.2 116.3,485 116.8,483.5 117.3,481.2 117.8,466.8 118.3,470 118.8,477.8 119.3,483 119.8,484.3 120.3,482.4 120.8,477.8 121.3,466.1 121.8,471.9 122.3,480.7 122.8,482.5 123.3,481.6 123.8,482.7 124.3,467.2 124.8,467.3 125.3,474 125.8,482.1 126.3,482.5 126.8,481 127.3,476.8 127.8,453.3 128.3,458.4 128.8,479.2 129.3,480.8 129.8,480 130.3,478.8 130.8,471.3 131.3,451 131.8,470.2 132.3,479.1 132.8,478.1 133.3,478.6 133.8,475.6 134.3,463.7 134.8,462.3 135.3,472.1 135.8,477 136.3,477 136.8,476.7 137.3,468.1 137.8,443 138.3,465.9 138.8,472.3 139.3,471.2 139.8,467.7 140.3,466.5 140.8,444.2 141.3,430.7 141.8,449 142.3,455.3 142.8,451.8 143.3,447.4" fill="none" stroke="#ff0000" stroke-width="1.0" stroke-linejoin="round" clip-path="url(#dc)"/>
<polyline points="35.3,392 35.8,418.8 36.3,443 36.8,465.5 37.3,488 37.8,507.7 38.3,510.8 38.8,512.7 39.3,514.6 39.8,516.5 40.3,517.2 40.8,517.1 41.3,516.9 41.8,516.8 42.3,516 42.8,514.9 43.3,513.7 43.8,512.5 44.3,511.3 44.8,510.2 45.3,508.4 45.8,506.3 46.3,504.2 46.8,502.1 47.3,500 47.8,497.9 48.3,495.2 48.8,492.2 49.3,489.1 49.8,486.1 50.3,483 50.8,480 51.3,476.6 51.8,472.3 52.3,466.2 52.8,461.7 53.3,457.2 53.8,452.7 54.3,448.2 54.8,441.4 55.3,433.1 55.8,424.8 56.3,416.2 56.8,406.4 57.3,396.4 57.8,385.8 58.3,386.9 58.8,395.7 59.3,408.4 59.8,421 60.3,432.8 60.8,444.5 61.3,453.7 61.8,461 62.3,463 62.8,468.3 63.3,469.8 63.8,473 64.3,474.7 64.8,476.7 65.3,478.1 65.8,479 66.3,480.7 66.8,481.4 67.3,483.6 67.8,483.5 68.3,484.7 68.8,485.5 69.3,484.9 69.8,487.7 70.3,487.4 70.8,489 71.3,488.2 71.8,489 72.3,488 72.8,489.5 73.3,488 73.8,489.2 74.3,490.6 74.8,489.4 75.3,490.6 75.8,488.9 76.3,490.1 76.8,491.8 77.3,489.5 77.8,491.5 78.3,490.6 78.8,491.3 79.3,491.9 79.8,492.3 80.3,491.2 80.8,492.1 81.3,492.6 81.8,490.9 82.3,492 82.8,493.3 83.3,491.4 83.8,492.9 84.3,492 84.8,491.4 85.3,491 85.8,489.4 86.3,492.1 86.8,490.4 87.3,491.7 87.8,492.2 88.3,492.5 88.8,489.4 89.3,488.6 89.8,492.2 90.3,491.5 90.8,490 91.3,491.6 91.8,490.8 92.3,490.5 92.8,490 93.3,490 93.8,491.6 94.3,491.2 94.8,490.8 95.3,490 95.8,489.4 96.3,490.5 96.8,488.1 97.3,489.6 97.8,489.4 98.3,488.5 98.8,484.3 99.3,487 99.8,485 100.3,483.9 100.8,487.1 101.3,489.1 101.8,482.1 102.3,485.1 102.8,481.6 103.3,488.2 103.8,484.3 104.3,482.4 104.8,484.3 105.3,484.4 105.8,487.3 106.3,486.3 106.8,483.3 107.3,487.2 107.8,486.5 108.3,483.3 108.8,485.3 109.3,479.4 109.8,485.8 110.3,485.5 110.8,486.9 111.3,480.3 111.8,483.7 112.3,481.2 112.8,482.6 113.3,480.5 113.8,483.4 114.3,484.5 114.8,470.1 115.3,470.1 115.8,480.9 116.3,480.9 116.8,477.2 117.3,484.1 117.8,482.7 118.3,474.6 118.8,484.5 119.3,483.9 119.8,484 120.3,481.9 120.8,473.4 121.3,478 121.8,476.7 122.3,468.4 122.8,480.9 123.3,480.3 123.8,475.2 124.3,478.1 124.8,478.1 125.3,479.4 125.8,480.8 126.3,468.1 126.8,480.7 127.3,472.2 127.8,475.1 128.3,476.6 128.8,481.3 129.3,477.4 129.8,481.4 130.3,480.5 130.8,477.9 131.3,471 131.8,469.8 132.3,471.7 132.8,478.3 133.3,458.7 133.8,478.7 134.3,473.2 134.8,471.2 135.3,476.4 135.8,476.5 136.3,473.1 136.8,474.9 137.3,476.4 137.8,478.5 138.3,467.6 138.8,471.3 139.3,469.8 139.8,470.7 140.3,466.9 140.8,459 141.3,462.2 141.8,459.1 142.3,443.9 142.8,451 143.3,440.3" fill="none" stroke="#0000ff" stroke-width="1.0" stroke-linejoin="round" clip-path="url(#dc)"/>
<polyline points="35.3,464.4 35.8,475.6 36.3,486.1 36.8,495.9 37.3,502.8 37.8,507.7 38.3,510.8 38.8,512.7 39.3,514.6 39.8,516.5 40.3,511.8 40.8,514.9 41.3,516.4 41.8,494 42.3,511.8 42.8,493.9 43.3,504.7 43.8,506.6 44.3,503.2 44.8,502 45.3,505.5 45.8,501.1 46.3,504.2 46.8,502.1 47.3,500 47.8,497.9 48.3,495.2 48.8,492.2 49.3,489.1 49.8,486.1 50.3,483 50.8,480 51.3,476.6 51.8,472.3 52.3,466.2 52.8,461.7 53.3,457.2 53.8,452.7 54.3,448.2 54.8,441.4 55.3,433.1 55.8,424.8 56.3,416.2 56.8,406.4 57.3,396.4 57.8,385.8 58.3,386.9 58.8,395.7 59.3,408.4 59.8,421 60.3,432.8 60.8,444.5 61.3,453.7 61.8,461 62.3,464.9 62.8,468.7 63.3,471.4 63.8,473.3 64.3,475.2 64.8,477.1 65.3,478.9 65.8,480.8 66.3,482.1 66.8,483 67.3,483.8 67.8,484.7 68.3,485.6 68.8,486.5 69.3,487.4 69.8,488.2 70.3,488.8 70.8,489 71.3,489.3 71.8,489.6 72.3,489.9 72.8,490.2 73.3,490.5 73.8,490.7 74.3,491 74.8,491.3 75.3,491.6 75.8,491.9 76.3,492 76.8,492.1 77.3,492.2 77.8,492.3 78.3,492.4 78.8,492.5 79.3,492.6 79.8,492.7 80.3,492.8 80.8,492.9 81.3,493 81.8,493.1 82.3,493.2 82.8,493.3 83.3,493.3 83.8,493.2 84.3,493.2 84.8,493.1 85.3,493 85.8,492.9 86.3,492.8 86.8,492.8 87.3,492.7 87.8,492.6 88.3,492.5 88.8,492.4 89.3,492.3 89.8,492.3 90.3,492.2 90.8,492.1 91.3,492 91.8,491.9 92.3,491.9 92.8,491.8 93.3,491.7 93.8,491.6 94.3,491.5 94.8,491.4 95.3,491.3 95.8,491.2 96.3,491 96.8,490.9 97.3,490.8 97.8,490.6 98.3,490.5 98.8,490.3 99.3,490.2 99.8,490.1 100.3,489.4 100.8,487.2 101.3,488.6 101.8,489.1 102.3,488 102.8,488.3 103.3,488.5 103.8,488.4 104.3,488.2 104.8,488 105.3,487.3 105.8,488.2 106.3,485.5 106.8,488 107.3,485.2 107.8,486.2 108.3,487.6 108.8,481.4 109.3,485.2 109.8,483.6 110.3,486.1 110.8,482.8 111.3,482.1 111.8,483.8 112.3,485.2 112.8,486.4 113.3,484.8 113.8,481.3 114.3,483.4 114.8,483.7 115.3,484.9 115.8,485.3 116.3,480.5 116.8,482.2 117.3,482.1 117.8,484.3 118.3,482 118.8,481 119.3,483.5 119.8,483.8 120.3,479.7 120.8,480.6 121.3,479.1 121.8,483 122.3,482.1 122.8,480.8 123.3,483.1 123.8,481.6 124.3,482.9 124.8,480.7 125.3,482.5 125.8,479.6 126.3,478.8 126.8,479.2 127.3,474.9 127.8,481.6 128.3,480 128.8,476.9 129.3,468.7 129.8,477 130.3,479.6 130.8,478 131.3,472 131.8,478.6 132.3,478.5 132.8,479.2 133.3,478.7 133.8,479.6 134.3,478.2 134.8,473.5 135.3,478.8 135.8,477.6 136.3,475.1 136.8,475.2 137.3,472.8 137.8,476.5 138.3,471.2 138.8,472.6 139.3,470.1 139.8,469.7 140.3,463.1 140.8,465.9 141.3,461.9 141.8,455.9 142.3,452.7 142.8,446 143.3,446" fill="none" stroke="#00ee00" stroke-width="1.0" stroke-linejoin="round" clip-path="url(#dc)"/>
<polyline points="35.3,464.4 35.8,475.6 36.3,486.1 36.8,495.9 37.3,502.8 37.8,507.7 38.3,510.8 38.8,512.7 39.3,514.6 39.8,516.5 40.3,517.2 40.8,517.1 41.3,516.9 41.8,516.8 42.3,516 42.8,514.9 43.3,513.7 43.8,512.5 44.3,511.3 44.8,510.2 45.3,508.4 45.8,506.3 46.3,504.2 46.8,502.1 47.3,500 47.8,497.9 48.3,495.2 48.8,492.2 49.3,489.1 49.8,486.1 50.3,483 50.8,480 51.3,476.6 51.8,473.1 52.3,469.6 52.8,466.1 53.3,462.6 53.8,459 54.3,455.5 54.8,452 55.3,448.5 55.8,445 56.3,441.9 56.8,439.1 57.3,436.2 57.8,434.7 58.3,434 58.8,435 59.3,437.1 59.8,441.3 60.3,446.9 60.8,452.6 61.3,457.1 61.8,461 62.3,464.9 62.8,468.7 63.3,471.4 63.8,473.3 64.3,475.2 64.8,477.1 65.3,478.9 65.8,480.8 66.3,482.1 66.8,483 67.3,483.8 67.8,484.7 68.3,485.6 68.8,486.5 69.3,487.4 69.8,488.2 70.3,488.8 70.8,489 71.3,489.3 71.8,489.6 72.3,489.9 72.8,490.2 73.3,490.5 73.8,490.7 74.3,491 74.8,491.3 75.3,491.6 75.8,491.9 76.3,492 76.8,492.1 77.3,492.2 77.8,492.3 78.3,492.4 78.8,492.5 79.3,492.6 79.8,492.7 80.3,492.8 80.8,492.9 81.3,493 81.8,493.1 82.3,493.2 82.8,493.3 83.3,493.3 83.8,493.2 84.3,493.2 84.8,493.1 85.3,493 85.8,492.9 86.3,492.8 86.8,492.8 87.3,492.7 87.8,492.6 88.3,492.5 88.8,492.4 89.3,492.3 89.8,492.3 90.3,492.2 90.8,492.1 91.3,492 91.8,491.9 92.3,491.9 92.8,491.8 93.3,491.7 93.8,491.6 94.3,491.5 94.8,491.4 95.3,491.3 95.8,491.2 96.3,491 96.8,490.9 97.3,490.8 97.8,490.6 98.3,490.5 98.8,490.3 99.3,490.2 99.8,490.1 100.3,489.9 100.8,489.8 101.3,489.6 101.8,489.5 102.3,489.4 102.8,489.2 103.3,489.1 103.8,488.9 104.3,488.8 104.8,488.7 105.3,488.5 105.8,488.4 106.3,488.2 106.8,488.1 107.3,487.9 107.8,487.8 108.3,487.7 108.8,487.5 109.3,487.4 109.8,487.2 110.3,487.1 110.8,487 111.3,486.8 111.8,486.7 112.3,486.5 112.8,486.4 113.3,486.3 113.8,486.1 114.3,486 114.8,485.8 115.3,485.7 115.8,485.6 116.3,485.4 116.8,485.3 117.3,485.1 117.8,485 118.3,484.9 118.8,484.7 119.3,484.6 119.8,484.4 120.3,484.3 120.8,484.1 121.3,484 121.8,483.9 122.3,483.7 122.8,483.6 123.3,483.4 123.8,483.3 124.3,483.2 124.8,483 125.3,482.9 125.8,482.7 126.3,482.5 126.8,482.4 127.3,482.2 127.8,482.1 128.3,481.9 128.8,481.7 129.3,481.6 129.8,481.4 130.3,481.2 130.8,481.1 131.3,480.9 131.8,480.8 132.3,480.6 132.8,480.4 133.3,480.3 133.8,480.1 134.3,479.9 134.8,479.8 135.3,479.6 135.8,479.5 136.3,479.3 136.8,479.1 137.3,479 137.8,478.8 138.3,477.5 138.8,475.4 139.3,473.3 139.8,471.1 140.3,469 140.8,466.9 141.3,463.7 141.8,459.8 142.3,455.8 142.8,451.9 143.3,447.9" fill="none" stroke="#ff00ff" stroke-width="1.2" stroke-linejoin="round" clip-path="url(#dc)"/>
<path d="M34.8 375.5H143.3V523.4" stroke="#000" stroke-width="1.1" fill="none"/>
<path d="M34.8 375.5V523.4H143.3" stroke="#000" stroke-width="1.1" fill="none"/>
<path d="M143.3 374.9V523.9" stroke="#000" stroke-width="1.1" fill="none"/>
<path d="M34.8 523L36.1 523M34.8 519.5L36.1 519.5M34.8 516.8L36.1 516.8M34.8 514.5L36.1 514.5M34.8 512.7L36.1 512.7M34.8 511L36.1 511M34.8 509.6L36.1 509.6M34.8 508.3L37.4 508.3M34.8 499.8L36.1 499.8M34.8 494.9L36.1 494.9M34.8 491.4L36.1 491.4M34.8 488.6L36.1 488.6M34.8 486.4L36.1 486.4M34.8 484.5L36.1 484.5M34.8 482.9L36.1 482.9M34.8 481.4L36.1 481.4M34.8 480.1L37.4 480.1M34.8 471.7L36.1 471.7M34.8 466.7L36.1 466.7M34.8 463.2L36.1 463.2M34.8 460.5L36.1 460.5M34.8 458.2L36.1 458.2M34.8 456.4L36.1 456.4M34.8 454.7L36.1 454.7M34.8 453.3L36.1 453.3M34.8 452L37.4 452M34.8 443.5L36.1 443.5M34.8 438.6L36.1 438.6M34.8 435.1L36.1 435.1M34.8 432.3L36.1 432.3M34.8 430.1L36.1 430.1M34.8 428.2L36.1 428.2M34.8 426.6L36.1 426.6M34.8 425.1L36.1 425.1M34.8 423.8L37.4 423.8M34.8 415.4L36.1 415.4M34.8 410.4L36.1 410.4M34.8 406.9L36.1 406.9M34.8 404.2L36.1 404.2M34.8 401.9L36.1 401.9M34.8 400.1L36.1 400.1M34.8 398.4L36.1 398.4M34.8 397L36.1 397M34.8 395.7L37.4 395.7M34.8 387.2L36.1 387.2M34.8 382.3L36.1 382.3M34.8 378.8L36.1 378.8M34.8 376L36.1 376M40.1 523.4L40.1 522M50.1 523.4L50.1 520.8M60.1 523.4L60.1 522M70 523.4L70 520.8M80 523.4L80 522M90 523.4L90 520.8M99.9 523.4L99.9 522M109.9 523.4L109.9 520.8M119.8 523.4L119.8 522M129.8 523.4L129.8 520.8M139.8 523.4L139.8 522" stroke="#000" stroke-width="0.8" fill="none"/>
<text x="32.4" y="510.5" font-family="Liberation Sans" font-weight="bold" font-size="6.3" fill="#000" text-anchor="end">10<tspan font-size="3.9" dy="-2.6">-6</tspan></text>
<text x="32.4" y="482.3" font-family="Liberation Sans" font-weight="bold" font-size="6.3" fill="#000" text-anchor="end">10<tspan font-size="3.9" dy="-2.6">-5</tspan></text>
<text x="32.4" y="454.2" font-family="Liberation Sans" font-weight="bold" font-size="6.3" fill="#000" text-anchor="end">10<tspan font-size="3.9" dy="-2.6">-4</tspan></text>
<text x="32.4" y="426" font-family="Liberation Sans" font-weight="bold" font-size="6.3" fill="#000" text-anchor="end">10<tspan font-size="3.9" dy="-2.6">-3</tspan></text>
<text x="32.4" y="397.9" font-family="Liberation Sans" font-weight="bold" font-size="6.3" fill="#000" text-anchor="end">10<tspan font-size="3.9" dy="-2.6">-2</tspan></text>
<text x="50.1" y="532.4" font-family="Liberation Sans" font-size="6.9" font-weight="bold" font-style="normal" text-anchor="middle" fill="#000">600</text>
<text x="70" y="532.4" font-family="Liberation Sans" font-size="6.9" font-weight="bold" font-style="normal" text-anchor="middle" fill="#000">900</text>
<text x="90" y="532.4" font-family="Liberation Sans" font-size="6.9" font-weight="bold" font-style="normal" text-anchor="middle" fill="#000">1200</text>
<text x="109.9" y="532.4" font-family="Liberation Sans" font-size="6.9" font-weight="bold" font-style="normal" text-anchor="middle" fill="#000">1500</text>
<text x="129.8" y="532.4" font-family="Liberation Sans" font-size="6.9" font-weight="bold" font-style="normal" text-anchor="middle" fill="#000">1800</text>
<text x="89" y="545.6" font-family="Liberation Sans" font-size="9.3" font-weight="bold" font-style="normal" text-anchor="middle" fill="#000">Wavelength (nm)</text>
<text transform="translate(12.9 455.6) rotate(-90)" font-family="Liberation Sans" font-weight="bold" font-size="10" text-anchor="middle">F</text>
<text x="2" y="375.5" font-family="Liberation Sans" font-size="9.7" fill="#1a1a1a" stroke="#1a1a1a" stroke-width="0.35">(d)</text>
<clipPath id="k7"><polygon points="246.3,225.7 256.3,208.5 276.1,208.5 286.1,225.7 276.1,242.9 256.3,242.9"/></clipPath>
<path clip-path="url(#k7)" d="M245.3 208.5H287.1M245.3 212.3H287.1M245.3 216.1H287.1M245.3 220H287.1M245.3 223.8H287.1M245.3 227.6H287.1M245.3 231.4H287.1M245.3 235.3H287.1M245.3 239.1H287.1M245.3 242.9H287.1M222 206.5L244.2 244.9M244.2 206.5L222 244.9M226.4 206.5L248.6 244.9M248.6 206.5L226.4 244.9M230.8 206.5L253 244.9M253 206.5L230.8 244.9M235.3 206.5L257.4 244.9M257.4 206.5L235.3 244.9M239.7 206.5L261.8 244.9M261.8 206.5L239.7 244.9M244.1 206.5L266.3 244.9M266.3 206.5L244.1 244.9M248.5 206.5L270.7 244.9M270.7 206.5L248.5 244.9M252.9 206.5L275.1 244.9M275.1 206.5L252.9 244.9M257.3 206.5L279.5 244.9M279.5 206.5L257.3 244.9M261.7 206.5L283.9 244.9M283.9 206.5L261.7 244.9M266.1 206.5L288.3 244.9M288.3 206.5L266.1 244.9M270.6 206.5L292.7 244.9M292.7 206.5L270.6 244.9M275 206.5L297.1 244.9M297.1 206.5L275 244.9M279.4 206.5L301.6 244.9M301.6 206.5L279.4 244.9M283.8 206.5L306 244.9M306 206.5L283.8 244.9M288.2 206.5L310.4 244.9M310.4 206.5L288.2 244.9" stroke="#d4d4d4" stroke-width="0.55" fill="none"/>
<circle cx="266.2" cy="225.7" r="7.3" fill="#fff"/>
<circle cx="266.2" cy="225.7" r="5.6" fill="url(#gfund)"/>
<text x="235.7" y="203.1" font-family="Liberation Sans" font-size="7.7" font-weight="bold" font-style="italic" text-anchor="start" fill="#111" stroke="#111" stroke-width="0.15">Fundamental mode</text>
<polyline points="206.2,213.9 220.2,257.1 241.1,303.5 276,316.1 310.9,326.1" fill="none" stroke="#000" stroke-width="0.6" stroke-linejoin="round"/>
<rect x="204.5" y="212.2" width="3.4" height="3.4" fill="#000"/>
<rect x="218.5" y="255.4" width="3.4" height="3.4" fill="#000"/>
<rect x="239.4" y="301.8" width="3.4" height="3.4" fill="#000"/>
<rect x="274.3" y="314.4" width="3.4" height="3.4" fill="#000"/>
<rect x="309.2" y="324.4" width="3.4" height="3.4" fill="#000"/>
<polyline points="206.2,239.4 220.2,318.5 241.1,328.4 276,330.1 310.9,331.5" fill="none" stroke="#2020ff" stroke-width="1.05" stroke-linejoin="round"/>
<rect x="204.8" y="238" width="2.8" height="2.8" fill="#1a1aff"/>
<rect x="218.8" y="317.1" width="2.8" height="2.8" fill="#1a1aff"/>
<rect x="239.7" y="327" width="2.8" height="2.8" fill="#1a1aff"/>
<rect x="274.6" y="328.7" width="2.8" height="2.8" fill="#1a1aff"/>
<rect x="309.5" y="330.1" width="2.8" height="2.8" fill="#1a1aff"/>
<path d="M199.6 190.2V342H317.6" stroke="#000" stroke-width="1.1" fill="none"/>
<path d="M199.1 190.2H317.6" stroke="#000" stroke-width="1.1" fill="none"/>
<path d="M317.6 189.7V342.5" stroke="#1a1aff" stroke-width="1.2" fill="none"/>
<path d="M199.6 339.3L202.2 339.3M199.6 329.3L201 329.3M199.6 323.5L201 323.5M199.6 319.3L201 319.3M199.6 316.1L201 316.1M199.6 313.5L201 313.5M199.6 311.2L201 311.2M199.6 309.3L201 309.3M199.6 307.6L201 307.6M199.6 306.1L202.2 306.1M199.6 296.1L201 296.1M199.6 290.3L201 290.3M199.6 286.1L201 286.1M199.6 282.9L201 282.9M199.6 280.3L201 280.3M199.6 278L201 278M199.6 276.1L201 276.1M199.6 274.4L201 274.4M199.6 272.9L202.2 272.9M199.6 262.9L201 262.9M199.6 257.1L201 257.1M199.6 252.9L201 252.9M199.6 249.7L201 249.7M199.6 247.1L201 247.1M199.6 244.8L201 244.8M199.6 242.9L201 242.9M199.6 241.2L201 241.2M199.6 239.7L202.2 239.7M199.6 229.7L201 229.7M199.6 223.9L201 223.9M199.6 219.7L201 219.7M199.6 216.5L201 216.5M199.6 213.9L201 213.9M199.6 211.6L201 211.6M199.6 209.7L201 209.7M199.6 208L201 208M199.6 206.5L202.2 206.5M199.6 196.5L201 196.5M199.6 190.7L201 190.7M206.2 342L206.2 339.4M206.2 190.2L206.2 192.8M223.6 342L223.6 340.5M223.6 190.2L223.6 191.7M241.1 342L241.1 339.4M241.1 190.2L241.1 192.8M258.5 342L258.5 340.5M258.5 190.2L258.5 191.7M276 342L276 339.4M276 190.2L276 192.8M293.4 342L293.4 340.5M293.4 190.2L293.4 191.7M310.9 342L310.9 339.4M310.9 190.2L310.9 192.8" stroke="#000" stroke-width="0.8" fill="none"/>
<path d="M317.6 190.4L315 190.4M317.6 256.7L316.2 256.7M317.6 240L316.2 240M317.6 228.1L316.2 228.1M317.6 218.9L316.2 218.9M317.6 211.4L316.2 211.4M317.6 205.1L316.2 205.1M317.6 199.6L316.2 199.6M317.6 194.7L316.2 194.7M317.6 285.2L315 285.2M317.6 334.8L316.2 334.8M317.6 322.9L316.2 322.9M317.6 313.7L316.2 313.7M317.6 306.2L316.2 306.2M317.6 299.9L316.2 299.9M317.6 294.4L316.2 294.4M317.6 289.5L316.2 289.5" stroke="#1a1aff" stroke-width="0.8" fill="none"/>
<text x="197" y="341.7" font-family="Liberation Sans" font-weight="bold" font-size="7.0" fill="#000" text-anchor="end">10<tspan font-size="4.3" dy="-2.9">-1</tspan></text>
<text x="197" y="308.5" font-family="Liberation Sans" font-weight="bold" font-size="7.0" fill="#000" text-anchor="end">10<tspan font-size="4.3" dy="-2.9">0</tspan></text>
<text x="197" y="275.3" font-family="Liberation Sans" font-weight="bold" font-size="7.0" fill="#000" text-anchor="end">10<tspan font-size="4.3" dy="-2.9">1</tspan></text>
<text x="197" y="242.1" font-family="Liberation Sans" font-weight="bold" font-size="7.0" fill="#000" text-anchor="end">10<tspan font-size="4.3" dy="-2.9">2</tspan></text>
<text x="197" y="208.9" font-family="Liberation Sans" font-weight="bold" font-size="7.0" fill="#000" text-anchor="end">10<tspan font-size="4.3" dy="-2.9">3</tspan></text>
<text x="321.2" y="192.7" font-family="Liberation Sans" font-weight="bold" font-size="6.6" fill="#1a1aff">10<tspan font-size="4.1" dy="-2.8">-4</tspan></text>
<text x="321.2" y="287.5" font-family="Liberation Sans" font-weight="bold" font-size="6.6" fill="#1a1aff">10<tspan font-size="4.1" dy="-2.8">-5</tspan></text>
<text x="206.2" y="351" font-family="Liberation Sans" font-size="7.0" font-weight="bold" font-style="normal" text-anchor="middle" fill="#000">0.0</text>
<text x="241.1" y="351" font-family="Liberation Sans" font-size="7.0" font-weight="bold" font-style="normal" text-anchor="middle" fill="#000">0.5</text>
<text x="276" y="351" font-family="Liberation Sans" font-size="7.0" font-weight="bold" font-style="normal" text-anchor="middle" fill="#000">1.0</text>
<text x="310.9" y="351" font-family="Liberation Sans" font-size="7.0" font-weight="bold" font-style="normal" text-anchor="middle" fill="#000">1.5</text>
<text x="259.3" y="361.2" font-family="Liberation Sans" font-size="9.5" font-weight="bold" text-anchor="middle"><tspan font-style="italic">b</tspan> value</text>
<text transform="translate(178.6 266.1) rotate(-90)" font-family="Liberation Sans" font-weight="bold" font-size="8.55" text-anchor="middle">Confinement loss (dB/km)</text>
<text transform="translate(339.2 273.6) rotate(90)" font-family="Liberation Sans" font-weight="bold" font-size="8" fill="#1a1aff" text-anchor="middle">F</text>
<text x="166.2" y="189.8" font-family="Liberation Serif" font-size="9.5" fill="#1a1a1a" stroke="#1a1a1a" stroke-width="0.35">(e)</text>
<clipPath id="k8"><polygon points="253.5,411.3 263.5,394.1 283.3,394.1 293.3,411.3 283.3,428.5 263.5,428.5"/></clipPath>
<path clip-path="url(#k8)" d="M252.5 394.1H294.3M252.5 397.9H294.3M252.5 401.7H294.3M252.5 405.6H294.3M252.5 409.4H294.3M252.5 413.2H294.3M252.5 417H294.3M252.5 420.9H294.3M252.5 424.7H294.3M252.5 428.5H294.3M229.2 392.1L251.4 430.5M251.4 392.1L229.2 430.5M233.6 392.1L255.8 430.5M255.8 392.1L233.6 430.5M238 392.1L260.2 430.5M260.2 392.1L238 430.5M242.5 392.1L264.6 430.5M264.6 392.1L242.5 430.5M246.9 392.1L269 430.5M269 392.1L246.9 430.5M251.3 392.1L273.5 430.5M273.5 392.1L251.3 430.5M255.7 392.1L277.9 430.5M277.9 392.1L255.7 430.5M260.1 392.1L282.3 430.5M282.3 392.1L260.1 430.5M264.5 392.1L286.7 430.5M286.7 392.1L264.5 430.5M268.9 392.1L291.1 430.5M291.1 392.1L268.9 430.5M273.3 392.1L295.5 430.5M295.5 392.1L273.3 430.5M277.8 392.1L299.9 430.5M299.9 392.1L277.8 430.5M282.2 392.1L304.3 430.5M304.3 392.1L282.2 430.5M286.6 392.1L308.8 430.5M308.8 392.1L286.6 430.5M291 392.1L313.2 430.5M313.2 392.1L291 430.5M295.4 392.1L317.6 430.5M317.6 392.1L295.4 430.5" stroke="#d4d4d4" stroke-width="0.55" fill="none"/>
<circle cx="273.4" cy="411.3" r="7.3" fill="#fff"/>
<polygon points="267.7,411.3 270.5,406.4 276.2,406.4 279.1,411.3 276.2,416.2 270.5,416.2" fill="#ffff30"/>
<polygon points="268.5,411.3 270.9,407.1 275.8,407.1 278.3,411.3 275.8,415.5 270.9,415.5" fill="#ff4000"/>
<circle cx="273.4" cy="411.3" r="4.0" fill="url(#ghigh)"/>
<text x="245.6" y="388.1" font-family="Liberation Sans" font-size="7.45" font-weight="bold" font-style="italic" text-anchor="start" fill="#111" stroke="#111" stroke-width="0.15">High order mode</text>
<polyline points="206.2,378.1 220.2,424.2 241.1,480.3 276,484.4 310.9,490.2" fill="none" stroke="#000" stroke-width="0.6" stroke-linejoin="round"/>
<rect x="204.5" y="376.4" width="3.4" height="3.4" fill="#000"/>
<rect x="218.5" y="422.5" width="3.4" height="3.4" fill="#000"/>
<rect x="239.4" y="478.6" width="3.4" height="3.4" fill="#000"/>
<rect x="274.3" y="482.7" width="3.4" height="3.4" fill="#000"/>
<rect x="309.2" y="488.5" width="3.4" height="3.4" fill="#000"/>
<polyline points="206.2,386.5 220.2,459.3 241.1,474.8 276,477 310.9,476.3" fill="none" stroke="#2020ff" stroke-width="1.05" stroke-linejoin="round"/>
<rect x="204.8" y="385.1" width="2.8" height="2.8" fill="#1a1aff"/>
<rect x="218.8" y="457.9" width="2.8" height="2.8" fill="#1a1aff"/>
<rect x="239.7" y="473.4" width="2.8" height="2.8" fill="#1a1aff"/>
<rect x="274.6" y="475.6" width="2.8" height="2.8" fill="#1a1aff"/>
<rect x="309.5" y="474.9" width="2.8" height="2.8" fill="#1a1aff"/>
<path d="M199.6 375.4V526.2H317.6" stroke="#000" stroke-width="1.1" fill="none"/>
<path d="M199.1 375.4H317.6" stroke="#000" stroke-width="1.1" fill="none"/>
<path d="M317.6 374.9V526.7" stroke="#1a1aff" stroke-width="1.2" fill="none"/>
<path d="M199.6 523.2L202.2 523.2M199.6 513.3L201 513.3M199.6 507.5L201 507.5M199.6 503.3L201 503.3M199.6 500.1L201 500.1M199.6 497.5L201 497.5M199.6 495.3L201 495.3M199.6 493.4L201 493.4M199.6 491.7L201 491.7M199.6 490.2L202.2 490.2M199.6 480.3L201 480.3M199.6 474.5L201 474.5M199.6 470.3L201 470.3M199.6 467.1L201 467.1M199.6 464.5L201 464.5M199.6 462.3L201 462.3M199.6 460.4L201 460.4M199.6 458.7L201 458.7M199.6 457.2L202.2 457.2M199.6 447.3L201 447.3M199.6 441.5L201 441.5M199.6 437.3L201 437.3M199.6 434.1L201 434.1M199.6 431.5L201 431.5M199.6 429.3L201 429.3M199.6 427.4L201 427.4M199.6 425.7L201 425.7M199.6 424.2L202.2 424.2M199.6 414.3L201 414.3M199.6 408.5L201 408.5M199.6 404.3L201 404.3M199.6 401.1L201 401.1M199.6 398.5L201 398.5M199.6 396.3L201 396.3M199.6 394.4L201 394.4M199.6 392.7L201 392.7M199.6 391.2L202.2 391.2M199.6 381.3L201 381.3M199.6 375.5L201 375.5M206.2 526.2L206.2 523.6M206.2 375.4L206.2 378M223.6 526.2L223.6 524.7M223.6 375.4L223.6 376.9M241.1 526.2L241.1 523.6M241.1 375.4L241.1 378M258.5 526.2L258.5 524.7M258.5 375.4L258.5 376.9M276 526.2L276 523.6M276 375.4L276 378M293.4 526.2L293.4 524.7M293.4 375.4L293.4 376.9M310.9 526.2L310.9 523.6M310.9 375.4L310.9 378" stroke="#000" stroke-width="0.8" fill="none"/>
<path d="M317.6 375.4L315 375.4M317.6 441.9L316.2 441.9M317.6 425.2L316.2 425.2M317.6 413.3L316.2 413.3M317.6 404.1L316.2 404.1M317.6 396.5L316.2 396.5M317.6 390.1L316.2 390.1M317.6 384.6L316.2 384.6M317.6 379.8L316.2 379.8M317.6 470.6L315 470.6M317.6 520.4L316.2 520.4M317.6 508.5L316.2 508.5M317.6 499.3L316.2 499.3M317.6 491.7L316.2 491.7M317.6 485.3L316.2 485.3M317.6 479.8L316.2 479.8M317.6 475L316.2 475" stroke="#1a1aff" stroke-width="0.8" fill="none"/>
<text x="197" y="525.6" font-family="Liberation Sans" font-weight="bold" font-size="7.0" fill="#000" text-anchor="end">10<tspan font-size="4.3" dy="-2.9">-1</tspan></text>
<text x="197" y="492.6" font-family="Liberation Sans" font-weight="bold" font-size="7.0" fill="#000" text-anchor="end">10<tspan font-size="4.3" dy="-2.9">0</tspan></text>
<text x="197" y="459.6" font-family="Liberation Sans" font-weight="bold" font-size="7.0" fill="#000" text-anchor="end">10<tspan font-size="4.3" dy="-2.9">1</tspan></text>
<text x="197" y="426.6" font-family="Liberation Sans" font-weight="bold" font-size="7.0" fill="#000" text-anchor="end">10<tspan font-size="4.3" dy="-2.9">2</tspan></text>
<text x="197" y="393.6" font-family="Liberation Sans" font-weight="bold" font-size="7.0" fill="#000" text-anchor="end">10<tspan font-size="4.3" dy="-2.9">3</tspan></text>
<text x="321.2" y="377.7" font-family="Liberation Sans" font-weight="bold" font-size="6.6" fill="#1a1aff">10<tspan font-size="4.1" dy="-2.8">-4</tspan></text>
<text x="321.2" y="472.9" font-family="Liberation Sans" font-weight="bold" font-size="6.6" fill="#1a1aff">10<tspan font-size="4.1" dy="-2.8">-5</tspan></text>
<text x="206.2" y="535.2" font-family="Liberation Sans" font-size="7.0" font-weight="bold" font-style="normal" text-anchor="middle" fill="#000">0.0</text>
<text x="241.1" y="535.2" font-family="Liberation Sans" font-size="7.0" font-weight="bold" font-style="normal" text-anchor="middle" fill="#000">0.5</text>
<text x="276" y="535.2" font-family="Liberation Sans" font-size="7.0" font-weight="bold" font-style="normal" text-anchor="middle" fill="#000">1.0</text>
<text x="310.9" y="535.2" font-family="Liberation Sans" font-size="7.0" font-weight="bold" font-style="normal" text-anchor="middle" fill="#000">1.5</text>
<text x="259.3" y="545.4" font-family="Liberation Sans" font-size="9.5" font-weight="bold" text-anchor="middle"><tspan font-style="italic">b</tspan> value</text>
<text transform="translate(178.6 450.8) rotate(-90)" font-family="Liberation Sans" font-weight="bold" font-size="8.55" text-anchor="middle">Confinement loss (dB/km)</text>
<text transform="translate(339 457.8) rotate(90)" font-family="Liberation Sans" font-weight="bold" font-size="8" fill="#1a1aff" text-anchor="middle">F</text>
<text x="162.4" y="375" font-family="Liberation Serif" font-size="9.4" fill="#1a1a1a" stroke="#1a1a1a" stroke-width="0.35">(f)</text>
<clipPath id="k9"><polygon points="428.3,225.1 438,208.3 457.4,208.3 467.1,225.1 457.4,241.9 438,241.9"/></clipPath>
<path clip-path="url(#k9)" d="M427.3 208.3H468.1M427.3 212H468.1M427.3 215.8H468.1M427.3 219.5H468.1M427.3 223.2H468.1M427.3 227H468.1M427.3 230.7H468.1M427.3 234.4H468.1M427.3 238.2H468.1M427.3 241.9H468.1M404.5 206.3L426.2 243.9M426.2 206.3L404.5 243.9M408.8 206.3L430.5 243.9M430.5 206.3L408.8 243.9M413.1 206.3L434.8 243.9M434.8 206.3L413.1 243.9M417.4 206.3L439.2 243.9M439.2 206.3L417.4 243.9M421.8 206.3L443.5 243.9M443.5 206.3L421.8 243.9M426.1 206.3L447.8 243.9M447.8 206.3L426.1 243.9M430.4 206.3L452.1 243.9M452.1 206.3L430.4 243.9M434.7 206.3L456.4 243.9M456.4 206.3L434.7 243.9M439 206.3L460.7 243.9M460.7 206.3L439 243.9M443.3 206.3L465 243.9M465 206.3L443.3 243.9M447.6 206.3L469.3 243.9M469.3 206.3L447.6 243.9M451.9 206.3L473.6 243.9M473.6 206.3L451.9 243.9M456.2 206.3L478 243.9M478 206.3L456.2 243.9M460.6 206.3L482.3 243.9M482.3 206.3L460.6 243.9M464.9 206.3L486.6 243.9M486.6 206.3L464.9 243.9M469.2 206.3L490.9 243.9M490.9 206.3L469.2 243.9" stroke="#d4d4d4" stroke-width="0.55" fill="none"/>
<circle cx="447.7" cy="225.1" r="7.1" fill="#fff"/>
<circle cx="447.7" cy="225.1" r="5.6" fill="url(#gfund)"/>
<text x="417.4" y="203.2" font-family="Liberation Sans" font-size="7.7" font-weight="bold" font-style="italic" text-anchor="start" fill="#111" stroke="#111" stroke-width="0.15">Fundamental mode</text>
<polyline points="394,213.8 407.9,256.6 428.8,302.6 463.6,315.1 498.4,325" fill="none" stroke="#000" stroke-width="0.6" stroke-linejoin="round"/>
<rect x="392.3" y="212.1" width="3.4" height="3.4" fill="#000"/>
<rect x="406.2" y="254.9" width="3.4" height="3.4" fill="#000"/>
<rect x="427.1" y="300.9" width="3.4" height="3.4" fill="#000"/>
<rect x="461.9" y="313.4" width="3.4" height="3.4" fill="#000"/>
<rect x="496.7" y="323.3" width="3.4" height="3.4" fill="#000"/>
<polyline points="394,318.3 428.8,311.8 463.6,283.2 498.4,209.7" fill="none" stroke="#2020ff" stroke-width="1.05" stroke-linejoin="round"/>
<circle cx="394" cy="318.3" r="1.5" fill="#1a1aff"/>
<circle cx="428.8" cy="311.8" r="1.5" fill="#1a1aff"/>
<circle cx="463.6" cy="283.2" r="1.5" fill="#1a1aff"/>
<circle cx="498.4" cy="209.7" r="1.5" fill="#1a1aff"/>
<path d="M387.6 190.7V341.3H505.3" stroke="#000" stroke-width="1.1" fill="none"/>
<path d="M387.1 190.7H505.3" stroke="#000" stroke-width="1.1" fill="none"/>
<path d="M505.3 190.2V341.8" stroke="#1a1aff" stroke-width="1.2" fill="none"/>
<path d="M387.6 338.1L390.2 338.1M387.6 328.2L389 328.2M387.6 322.4L389 322.4M387.6 318.3L389 318.3M387.6 315.1L389 315.1M387.6 312.5L389 312.5M387.6 310.3L389 310.3M387.6 308.4L389 308.4M387.6 306.7L389 306.7M387.6 305.2L390.2 305.2M387.6 295.3L389 295.3M387.6 289.5L389 289.5M387.6 285.4L389 285.4M387.6 282.2L389 282.2M387.6 279.6L389 279.6M387.6 277.4L389 277.4M387.6 275.5L389 275.5M387.6 273.8L389 273.8M387.6 272.3L390.2 272.3M387.6 262.4L389 262.4M387.6 256.6L389 256.6M387.6 252.5L389 252.5M387.6 249.3L389 249.3M387.6 246.7L389 246.7M387.6 244.5L389 244.5M387.6 242.6L389 242.6M387.6 240.9L389 240.9M387.6 239.4L390.2 239.4M387.6 229.5L389 229.5M387.6 223.7L389 223.7M387.6 219.6L389 219.6M387.6 216.4L389 216.4M387.6 213.8L389 213.8M387.6 211.6L389 211.6M387.6 209.7L389 209.7M387.6 208L389 208M387.6 206.5L390.2 206.5M387.6 196.6L389 196.6M387.6 190.8L389 190.8M394 341.3L394 338.7M394 190.7L394 193.3M411.4 341.3L411.4 339.8M411.4 190.7L411.4 192.2M428.8 341.3L428.8 338.7M428.8 190.7L428.8 193.3M446.2 341.3L446.2 339.8M446.2 190.7L446.2 192.2M463.6 341.3L463.6 338.7M463.6 190.7L463.6 193.3M481 341.3L481 339.8M481 190.7L481 192.2M498.4 341.3L498.4 338.7M498.4 190.7L498.4 193.3" stroke="#000" stroke-width="0.8" fill="none"/>
<path d="M505.3 190.5L502.7 190.5M505.3 198L503.9 198M505.3 205.5L502.7 205.5M505.3 213L503.9 213M505.3 220.5L502.7 220.5M505.3 228L503.9 228M505.3 235.5L502.7 235.5M505.3 243L503.9 243M505.3 250.5L502.7 250.5M505.3 258L503.9 258M505.3 265.5L502.7 265.5M505.3 273L503.9 273M505.3 280.5L502.7 280.5M505.3 288L503.9 288M505.3 295.5L502.7 295.5M505.3 303L503.9 303M505.3 310.5L502.7 310.5M505.3 318L503.9 318M505.3 325.5L502.7 325.5M505.3 333L503.9 333M505.3 340.5L502.7 340.5" stroke="#1a1aff" stroke-width="0.8" fill="none"/>
<text x="385.4" y="340.6" font-family="Liberation Sans" font-size="7.0" font-weight="bold" font-style="normal" text-anchor="end" fill="#000">0.1</text>
<text x="385.4" y="307.7" font-family="Liberation Sans" font-size="7.0" font-weight="bold" font-style="normal" text-anchor="end" fill="#000">1</text>
<text x="385.4" y="274.8" font-family="Liberation Sans" font-size="7.0" font-weight="bold" font-style="normal" text-anchor="end" fill="#000">10</text>
<text x="385.4" y="241.9" font-family="Liberation Sans" font-size="7.0" font-weight="bold" font-style="normal" text-anchor="end" fill="#000">100</text>
<text x="385.4" y="209" font-family="Liberation Sans" font-size="7.0" font-weight="bold" font-style="normal" text-anchor="end" fill="#000">1000</text>
<text x="508.5" y="193" font-family="Liberation Sans" font-size="7.0" font-weight="bold" font-style="normal" text-anchor="start" fill="#1a1aff">700</text>
<text x="508.5" y="208" font-family="Liberation Sans" font-size="7.0" font-weight="bold" font-style="normal" text-anchor="start" fill="#1a1aff">650</text>
<text x="508.5" y="223" font-family="Liberation Sans" font-size="7.0" font-weight="bold" font-style="normal" text-anchor="start" fill="#1a1aff">600</text>
<text x="508.5" y="238" font-family="Liberation Sans" font-size="7.0" font-weight="bold" font-style="normal" text-anchor="start" fill="#1a1aff">550</text>
<text x="508.5" y="253" font-family="Liberation Sans" font-size="7.0" font-weight="bold" font-style="normal" text-anchor="start" fill="#1a1aff">500</text>
<text x="508.5" y="268" font-family="Liberation Sans" font-size="7.0" font-weight="bold" font-style="normal" text-anchor="start" fill="#1a1aff">450</text>
<text x="508.5" y="283" font-family="Liberation Sans" font-size="7.0" font-weight="bold" font-style="normal" text-anchor="start" fill="#1a1aff">400</text>
<text x="508.5" y="298" font-family="Liberation Sans" font-size="7.0" font-weight="bold" font-style="normal" text-anchor="start" fill="#1a1aff">350</text>
<text x="508.5" y="313" font-family="Liberation Sans" font-size="7.0" font-weight="bold" font-style="normal" text-anchor="start" fill="#1a1aff">300</text>
<text x="508.5" y="328" font-family="Liberation Sans" font-size="7.0" font-weight="bold" font-style="normal" text-anchor="start" fill="#1a1aff">250</text>
<text x="508.5" y="343" font-family="Liberation Sans" font-size="7.0" font-weight="bold" font-style="normal" text-anchor="start" fill="#1a1aff">200</text>
<text x="394" y="350.3" font-family="Liberation Sans" font-size="7.0" font-weight="bold" font-style="normal" text-anchor="middle" fill="#000">0.0</text>
<text x="428.8" y="350.3" font-family="Liberation Sans" font-size="7.0" font-weight="bold" font-style="normal" text-anchor="middle" fill="#000">0.5</text>
<text x="463.6" y="350.3" font-family="Liberation Sans" font-size="7.0" font-weight="bold" font-style="normal" text-anchor="middle" fill="#000">1.0</text>
<text x="498.4" y="350.3" font-family="Liberation Sans" font-size="7.0" font-weight="bold" font-style="normal" text-anchor="middle" fill="#000">1.5</text>
<text x="447" y="360.5" font-family="Liberation Sans" font-size="9.5" font-weight="bold" text-anchor="middle"><tspan font-style="italic">b</tspan> value</text>
<text transform="translate(362.8 266) rotate(-90)" font-family="Liberation Sans" font-weight="bold" font-size="8.55" text-anchor="middle">Confinement loss (dB/km)</text>
<text transform="translate(527.6 277) rotate(90)" font-family="Liberation Sans" font-weight="bold" font-size="9.8" fill="#1a1aff" text-anchor="middle">Azimuthal-like number <tspan font-style="italic">m</tspan></text>
<text x="354.2" y="193.8" font-family="Liberation Serif" font-size="9.5" fill="#1a1a1a" stroke="#1a1a1a" stroke-width="0.35">(g)</text>
<clipPath id="k10"><polygon points="430.3,411.2 440.1,394.2 459.7,394.2 469.5,411.2 459.7,428.2 440.1,428.2"/></clipPath>
<path clip-path="url(#k10)" d="M429.3 394.2H470.5M429.3 398H470.5M429.3 401.8H470.5M429.3 405.5H470.5M429.3 409.3H470.5M429.3 413.1H470.5M429.3 416.9H470.5M429.3 420.6H470.5M429.3 424.4H470.5M429.3 428.2H470.5M406.2 392.2L428.2 430.2M428.2 392.2L406.2 430.2M410.6 392.2L432.5 430.2M432.5 392.2L410.6 430.2M414.9 392.2L436.9 430.2M436.9 392.2L414.9 430.2M419.3 392.2L441.2 430.2M441.2 392.2L419.3 430.2M423.7 392.2L445.6 430.2M445.6 392.2L423.7 430.2M428 392.2L450 430.2M450 392.2L428 430.2M432.4 392.2L454.3 430.2M454.3 392.2L432.4 430.2M436.7 392.2L458.7 430.2M458.7 392.2L436.7 430.2M441.1 392.2L463.1 430.2M463.1 392.2L441.1 430.2M445.5 392.2L467.4 430.2M467.4 392.2L445.5 430.2M449.8 392.2L471.8 430.2M471.8 392.2L449.8 430.2M454.2 392.2L476.1 430.2M476.1 392.2L454.2 430.2M458.6 392.2L480.5 430.2M480.5 392.2L458.6 430.2M462.9 392.2L484.9 430.2M484.9 392.2L462.9 430.2M467.3 392.2L489.2 430.2M489.2 392.2L467.3 430.2M471.6 392.2L493.6 430.2M493.6 392.2L471.6 430.2" stroke="#d4d4d4" stroke-width="0.55" fill="none"/>
<circle cx="449.9" cy="411.2" r="7.2" fill="#fff"/>
<polygon points="444.2,411.2 447,406.3 452.8,406.3 455.6,411.2 452.8,416.1 447,416.1" fill="#ffff30"/>
<polygon points="445,411.2 447.4,407 452.3,407 454.8,411.2 452.3,415.4 447.4,415.4" fill="#ff4000"/>
<circle cx="449.9" cy="411.2" r="4.0" fill="url(#ghigh)"/>
<text x="422.3" y="387.8" font-family="Liberation Sans" font-size="7.45" font-weight="bold" font-style="italic" text-anchor="start" fill="#111" stroke="#111" stroke-width="0.15">High order mode</text>
<polyline points="394.2,379.2 408.1,425.6 428.9,481.5 463.7,485.6 498.4,491.4" fill="none" stroke="#000" stroke-width="0.6" stroke-linejoin="round"/>
<rect x="392.5" y="377.5" width="3.4" height="3.4" fill="#000"/>
<rect x="406.4" y="423.9" width="3.4" height="3.4" fill="#000"/>
<rect x="427.2" y="479.8" width="3.4" height="3.4" fill="#000"/>
<rect x="462" y="483.9" width="3.4" height="3.4" fill="#000"/>
<rect x="496.8" y="489.7" width="3.4" height="3.4" fill="#000"/>
<polyline points="394.2,504.4 428.9,498 463.7,471.1 498.4,396.2" fill="none" stroke="#2020ff" stroke-width="1.05" stroke-linejoin="round"/>
<circle cx="394.2" cy="504.4" r="1.5" fill="#1a1aff"/>
<circle cx="428.9" cy="498" r="1.5" fill="#1a1aff"/>
<circle cx="463.7" cy="471.1" r="1.5" fill="#1a1aff"/>
<circle cx="498.4" cy="396.2" r="1.5" fill="#1a1aff"/>
<path d="M387.6 377.4V527H505" stroke="#000" stroke-width="1.1" fill="none"/>
<path d="M387.1 377.4H505" stroke="#000" stroke-width="1.1" fill="none"/>
<path d="M505 376.9V527.5" stroke="#1a1aff" stroke-width="1.2" fill="none"/>
<path d="M387.6 524.3L390.2 524.3M387.6 514.4L389 514.4M387.6 508.6L389 508.6M387.6 504.5L389 504.5M387.6 501.3L389 501.3M387.6 498.7L389 498.7M387.6 496.5L389 496.5M387.6 494.6L389 494.6M387.6 492.9L389 492.9M387.6 491.4L390.2 491.4M387.6 481.5L389 481.5M387.6 475.7L389 475.7M387.6 471.6L389 471.6M387.6 468.4L389 468.4M387.6 465.8L389 465.8M387.6 463.6L389 463.6M387.6 461.7L389 461.7M387.6 460L389 460M387.6 458.5L390.2 458.5M387.6 448.6L389 448.6M387.6 442.8L389 442.8M387.6 438.7L389 438.7M387.6 435.5L389 435.5M387.6 432.9L389 432.9M387.6 430.7L389 430.7M387.6 428.8L389 428.8M387.6 427.1L389 427.1M387.6 425.6L390.2 425.6M387.6 415.7L389 415.7M387.6 409.9L389 409.9M387.6 405.8L389 405.8M387.6 402.6L389 402.6M387.6 400L389 400M387.6 397.8L389 397.8M387.6 395.9L389 395.9M387.6 394.2L389 394.2M387.6 392.7L390.2 392.7M387.6 382.8L389 382.8M394.2 527L394.2 524.4M394.2 377.4L394.2 380M411.6 527L411.6 525.5M411.6 377.4L411.6 378.9M428.9 527L428.9 524.4M428.9 377.4L428.9 380M446.3 527L446.3 525.5M446.3 377.4L446.3 378.9M463.7 527L463.7 524.4M463.7 377.4L463.7 380M481.1 527L481.1 525.5M481.1 377.4L481.1 378.9M498.4 527L498.4 524.4M498.4 377.4L498.4 380" stroke="#000" stroke-width="0.8" fill="none"/>
<path d="M505 377.1L502.4 377.1M505 392L503.6 392M505 406.9L502.4 406.9M505 421.8L503.6 421.8M505 436.7L502.4 436.7M505 451.6L503.6 451.6M505 466.5L502.4 466.5M505 481.4L503.6 481.4M505 496.3L502.4 496.3M505 511.2L503.6 511.2M505 526.1L502.4 526.1" stroke="#1a1aff" stroke-width="0.8" fill="none"/>
<text x="385.4" y="526.8" font-family="Liberation Sans" font-size="7.0" font-weight="bold" font-style="normal" text-anchor="end" fill="#000">0.1</text>
<text x="385.4" y="493.9" font-family="Liberation Sans" font-size="7.0" font-weight="bold" font-style="normal" text-anchor="end" fill="#000">1</text>
<text x="385.4" y="461" font-family="Liberation Sans" font-size="7.0" font-weight="bold" font-style="normal" text-anchor="end" fill="#000">10</text>
<text x="385.4" y="428.1" font-family="Liberation Sans" font-size="7.0" font-weight="bold" font-style="normal" text-anchor="end" fill="#000">100</text>
<text x="385.4" y="395.2" font-family="Liberation Sans" font-size="7.0" font-weight="bold" font-style="normal" text-anchor="end" fill="#000">1000</text>
<text x="508.2" y="379.6" font-family="Liberation Sans" font-size="7.0" font-weight="bold" font-style="normal" text-anchor="start" fill="#1a1aff">700</text>
<text x="508.2" y="409.4" font-family="Liberation Sans" font-size="7.0" font-weight="bold" font-style="normal" text-anchor="start" fill="#1a1aff">600</text>
<text x="508.2" y="439.2" font-family="Liberation Sans" font-size="7.0" font-weight="bold" font-style="normal" text-anchor="start" fill="#1a1aff">500</text>
<text x="508.2" y="469" font-family="Liberation Sans" font-size="7.0" font-weight="bold" font-style="normal" text-anchor="start" fill="#1a1aff">400</text>
<text x="508.2" y="498.8" font-family="Liberation Sans" font-size="7.0" font-weight="bold" font-style="normal" text-anchor="start" fill="#1a1aff">300</text>
<text x="508.2" y="528.6" font-family="Liberation Sans" font-size="7.0" font-weight="bold" font-style="normal" text-anchor="start" fill="#1a1aff">200</text>
<text x="394.2" y="536" font-family="Liberation Sans" font-size="7.0" font-weight="bold" font-style="normal" text-anchor="middle" fill="#000">0.0</text>
<text x="428.9" y="536" font-family="Liberation Sans" font-size="7.0" font-weight="bold" font-style="normal" text-anchor="middle" fill="#000">0.5</text>
<text x="463.7" y="536" font-family="Liberation Sans" font-size="7.0" font-weight="bold" font-style="normal" text-anchor="middle" fill="#000">1.0</text>
<text x="498.4" y="536" font-family="Liberation Sans" font-size="7.0" font-weight="bold" font-style="normal" text-anchor="middle" fill="#000">1.5</text>
<text x="447.1" y="546.2" font-family="Liberation Sans" font-size="9.5" font-weight="bold" text-anchor="middle"><tspan font-style="italic">b</tspan> value</text>
<text transform="translate(362.8 452.2) rotate(-90)" font-family="Liberation Sans" font-weight="bold" font-size="8.55" text-anchor="middle">Confinement loss (dB/km)</text>
<text transform="translate(527.6 463) rotate(90)" font-family="Liberation Sans" font-weight="bold" font-size="9.8" fill="#1a1aff" text-anchor="middle">Azimuthal-like number <tspan font-style="italic">m</tspan></text>
<text x="354.4" y="374.4" font-family="Liberation Sans" font-size="10" fill="#1a1a1a" stroke="#1a1a1a" stroke-width="0.35">(h)</text>
</svg>
</body></html>
